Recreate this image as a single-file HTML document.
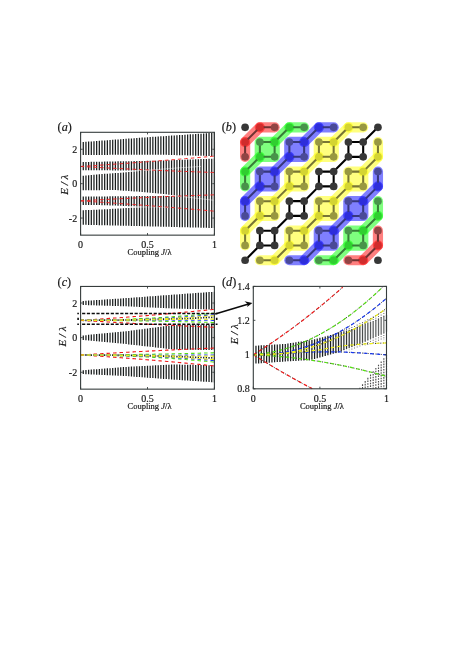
<!DOCTYPE html>
<html lang="en"><head><meta charset="utf-8"><title>Figure</title>
<style>html,body{margin:0;padding:0;background:#fff;overflow:hidden}svg{display:block}text{font-family:'Liberation Serif', 'DejaVu Serif', serif;fill:#141414;stroke:#141414;stroke-width:0.16px}</style>
</head><body>
<svg width="464" height="655" viewBox="0 0 464 655">
<rect width="464" height="655" fill="#fff"/>
<g id="panel-a">
<path d="M83.28 210.22V224.75M83.28 196.62V204.92M83.28 175.68V190.26M83.28 162.02V170.18M83.28 142.01V154.93M85.95 210.12V224.81M85.95 196.6V204.94M85.95 175.45V190.24M85.95 161.97V170.2M85.95 141.81V154.92M88.63 210.02V224.88M88.63 196.57V204.97M88.63 175.21V190.22M88.63 161.92V170.21M88.63 141.61V154.92M91.3 209.92V224.94M91.3 196.55V204.99M91.3 174.97V190.2M91.3 161.87V170.23M91.3 141.41V154.91M93.98 209.82V225.01M93.98 196.52V205.01M93.98 174.73V190.18M93.98 161.82V170.25M93.98 141.21V154.91M96.66 209.72V225.07M96.66 196.5V205.03M96.66 174.5V190.16M96.66 161.77V170.27M96.66 141.01V154.9M99.33 209.62V225.14M99.33 196.47V205.05M99.33 174.26V190.14M99.33 161.72V170.29M99.33 140.81V154.9M102.01 209.48V225.2M102.01 196.45V205.13M102.01 174.05V190.12M102.01 161.67V170.31M102.01 140.61V154.89M104.68 209.33V225.27M104.68 196.42V205.23M104.68 173.86V190.1M104.68 161.62V170.33M104.68 140.41V154.89M107.36 209.17V225.34M107.36 196.4V205.33M107.36 173.67V190.08M107.36 161.57V170.34M107.36 140.21V154.88M110.04 209.02V225.4M110.04 196.37V205.43M110.04 173.47V190.05M110.04 161.52V170.36M110.04 140.01V154.87M112.71 208.86V225.47M112.71 196.35V205.53M112.71 173.28V190.03M112.71 161.47V170.38M112.71 139.81V154.87M115.39 208.7V225.53M115.39 196.32V205.62M115.39 173.08V190.12M115.39 161.42V170.4M115.39 139.61V154.86M118.06 208.55V225.6M118.06 196.3V205.72M118.06 172.89V190.3M118.06 161.37V170.42M118.06 139.41V154.86M120.74 208.39V225.66M120.74 196.27V205.82M120.74 172.7V190.48M120.74 161.32V170.44M120.74 139.22V154.85M123.42 208.24V225.73M123.42 196.25V205.92M123.42 172.5V190.66M123.42 161.28V170.46M123.42 139.02V154.85M126.09 208.08V225.79M126.09 196.22V206.02M126.09 172.31V190.84M126.09 161.23V170.48M126.09 138.82V154.84M128.77 207.96V225.86M128.77 196.2V206.13M128.77 172.05V191.03M128.77 161.18V170.49M128.77 138.62V154.84M131.44 207.83V225.92M131.44 196.17V206.25M131.44 171.79V191.21M131.44 161.13V170.51M131.44 138.42V154.83M134.12 207.71V225.99M134.12 196.15V206.36M134.12 171.53V191.39M134.12 161.08V170.53M134.12 138.22V154.83M136.8 207.58V226.05M136.8 196.12V206.48M136.8 171.28V191.57M136.8 161.03V170.55M136.8 138.02V154.82M139.47 207.45V226.12M139.47 196.1V206.59M139.47 171.02V191.81M139.47 160.98V170.57M139.47 137.82V154.81M142.15 207.33V226.19M142.15 196.07V206.71M142.15 160.93V192.05M142.15 137.62V154.81M144.82 207.2V226.25M144.82 196.05V206.82M144.82 160.88V192.29M144.82 137.42V154.8M147.5 196.02V226.32M147.5 160.83V192.54M147.5 137.22V154.8M150.18 196V226.38M150.18 160.78V192.78M150.18 137.04V154.79M152.85 195.97V226.45M152.85 160.73V193.02M152.85 136.86V154.79M155.53 195.95V226.52M155.53 160.68V193.26M155.53 136.68V154.78M158.2 195.92V226.59M158.2 160.63V193.5M158.2 136.5V154.78M160.88 195.9V226.66M160.88 160.58V193.74M160.88 136.33V154.77M163.56 195.87V226.73M163.56 160.53V193.98M163.56 136.15V154.76M166.23 195.97V226.8M166.23 160.42V194.32M166.23 135.97V154.84M168.91 196.07V226.87M168.91 160.32V194.67M168.91 135.79V154.91M171.58 196.17V226.94M171.58 160.22V195.01M171.58 135.61V154.98M174.26 196.27V227M174.26 160.12V195.36M174.26 135.43V155.05M176.94 196.36V227.07M176.94 160.02V195.7M176.94 135.25V155.13M179.61 196.46V227.14M179.61 159.92V196.04M179.61 135.07V155.2M182.29 159.82V227.21M182.29 134.89V155.27M184.96 159.71V227.28M184.96 134.72V155.34M187.64 159.61V227.35M187.64 134.54V155.42M190.32 159.51V227.42M190.32 134.36V155.49M192.99 159.41V227.49M192.99 134.18V155.56M195.67 159.31V227.55M195.67 134V155.63M198.34 159.21V227.62M198.34 133.82V155.71M201.02 159.11V227.69M201.02 133.64V155.78M203.7 159.01V227.76M203.7 133.46V155.85M206.37 158.9V227.83M206.37 133.28V155.92M209.05 158.8V227.9M209.05 133.11V156M211.72 158.7V227.97M211.72 132.93V156.07M214.4 158.6V228.04M214.4 132.75V156.14" stroke="#181c1c" stroke-width="1.25" fill="none"/>
<path d="M80.6 166.46L82.29 166.35L83.99 166.24L85.68 166.13L87.37 166.02L89.07 165.91L90.76 165.8L92.46 165.68L94.15 165.57L95.84 165.46L97.54 165.34L99.23 165.23L100.92 165.11L102.62 165L104.31 164.88L106.01 164.77L107.7 164.65L109.39 164.53L111.09 164.41L112.78 164.29L114.47 164.17L116.17 164.05L117.86 163.93L119.55 163.81L121.25 163.69L122.94 163.57L124.64 163.44L126.33 163.32L128.02 163.2L129.72 163.07L131.41 162.95L133.1 162.82L134.8 162.69L136.49 162.57L138.18 162.44L139.88 162.31L141.57 162.18L143.27 162.05L144.96 161.93L146.65 161.8L148.35 161.66L150.04 161.53L151.73 161.4L153.43 161.27L155.12 161.14L156.82 161L158.51 160.87L160.2 160.73L161.9 160.6L163.59 160.46L165.28 160.33L166.98 160.19L168.67 160.05L170.36 159.92L172.06 159.78L173.75 159.64L175.45 159.5L177.14 159.36L178.83 159.22L180.53 159.08L182.22 158.94L183.91 158.79L185.61 158.65L187.3 158.51L188.99 158.36L190.69 158.22L192.38 158.07L194.08 157.93L195.77 157.78L197.46 157.64L199.16 157.49L200.85 157.34L202.54 157.19L204.24 157.04L205.93 156.9L207.63 156.75L209.32 156.59L211.01 156.44L212.71 156.29L214.4 156.14" stroke="#f02424" stroke-width="1.0" fill="none" stroke-dasharray="3.5 3" stroke-dashoffset="0"/>
<path d="M80.6 166.46L82.29 166.56L83.99 166.65L85.68 166.75L87.37 166.85L89.07 166.94L90.76 167.04L92.46 167.13L94.15 167.23L95.84 167.32L97.54 167.41L99.23 167.5L100.92 167.6L102.62 167.69L104.31 167.78L106.01 167.87L107.7 167.96L109.39 168.05L111.09 168.13L112.78 168.22L114.47 168.31L116.17 168.4L117.86 168.48L119.55 168.57L121.25 168.65L122.94 168.74L124.64 168.82L126.33 168.9L128.02 168.99L129.72 169.07L131.41 169.15L133.1 169.23L134.8 169.31L136.49 169.39L138.18 169.47L139.88 169.55L141.57 169.63L143.27 169.71L144.96 169.79L146.65 169.86L148.35 169.94L150.04 170.01L151.73 170.09L153.43 170.16L155.12 170.24L156.82 170.31L158.51 170.38L160.2 170.46L161.9 170.53L163.59 170.6L165.28 170.67L166.98 170.74L168.67 170.81L170.36 170.88L172.06 170.95L173.75 171.01L175.45 171.08L177.14 171.15L178.83 171.22L180.53 171.28L182.22 171.35L183.91 171.41L185.61 171.48L187.3 171.54L188.99 171.6L190.69 171.66L192.38 171.73L194.08 171.79L195.77 171.85L197.46 171.91L199.16 171.97L200.85 172.03L202.54 172.09L204.24 172.14L205.93 172.2L207.63 172.26L209.32 172.31L211.01 172.37L212.71 172.43L214.4 172.48" stroke="#f02424" stroke-width="1.0" fill="none" stroke-dasharray="3.5 3" stroke-dashoffset="0"/>
<path d="M80.6 200.86L82.29 200.97L83.99 201.08L85.68 201.19L87.37 201.3L89.07 201.41L90.76 201.52L92.46 201.64L94.15 201.75L95.84 201.86L97.54 201.98L99.23 202.09L100.92 202.21L102.62 202.32L104.31 202.44L106.01 202.55L107.7 202.67L109.39 202.79L111.09 202.91L112.78 203.03L114.47 203.15L116.17 203.27L117.86 203.39L119.55 203.51L121.25 203.63L122.94 203.75L124.64 203.88L126.33 204L128.02 204.12L129.72 204.25L131.41 204.37L133.1 204.5L134.8 204.63L136.49 204.75L138.18 204.88L139.88 205.01L141.57 205.14L143.27 205.27L144.96 205.39L146.65 205.52L148.35 205.66L150.04 205.79L151.73 205.92L153.43 206.05L155.12 206.18L156.82 206.32L158.51 206.45L160.2 206.59L161.9 206.72L163.59 206.86L165.28 206.99L166.98 207.13L168.67 207.27L170.36 207.4L172.06 207.54L173.75 207.68L175.45 207.82L177.14 207.96L178.83 208.1L180.53 208.24L182.22 208.38L183.91 208.53L185.61 208.67L187.3 208.81L188.99 208.96L190.69 209.1L192.38 209.25L194.08 209.39L195.77 209.54L197.46 209.68L199.16 209.83L200.85 209.98L202.54 210.13L204.24 210.28L205.93 210.42L207.63 210.57L209.32 210.73L211.01 210.88L212.71 211.03L214.4 211.18" stroke="#f02424" stroke-width="1.0" fill="none" stroke-dasharray="3.5 3" stroke-dashoffset="0"/>
<path d="M80.6 200.86L82.29 200.76L83.99 200.67L85.68 200.57L87.37 200.47L89.07 200.38L90.76 200.28L92.46 200.19L94.15 200.09L95.84 200L97.54 199.91L99.23 199.82L100.92 199.72L102.62 199.63L104.31 199.54L106.01 199.45L107.7 199.36L109.39 199.27L111.09 199.19L112.78 199.1L114.47 199.01L116.17 198.92L117.86 198.84L119.55 198.75L121.25 198.67L122.94 198.58L124.64 198.5L126.33 198.42L128.02 198.33L129.72 198.25L131.41 198.17L133.1 198.09L134.8 198.01L136.49 197.93L138.18 197.85L139.88 197.77L141.57 197.69L143.27 197.61L144.96 197.53L146.65 197.46L148.35 197.38L150.04 197.31L151.73 197.23L153.43 197.16L155.12 197.08L156.82 197.01L158.51 196.94L160.2 196.86L161.9 196.79L163.59 196.72L165.28 196.65L166.98 196.58L168.67 196.51L170.36 196.44L172.06 196.37L173.75 196.31L175.45 196.24L177.14 196.17L178.83 196.1L180.53 196.04L182.22 195.97L183.91 195.91L185.61 195.84L187.3 195.78L188.99 195.72L190.69 195.66L192.38 195.59L194.08 195.53L195.77 195.47L197.46 195.41L199.16 195.35L200.85 195.29L202.54 195.23L204.24 195.18L205.93 195.12L207.63 195.06L209.32 195.01L211.01 194.95L212.71 194.89L214.4 194.84" stroke="#f02424" stroke-width="1.0" fill="none" stroke-dasharray="3.5 3" stroke-dashoffset="0"/>
<path d="M143.49 170.59L174.26 168.18L201.02 166.46" stroke="#fff" stroke-opacity="0.45" stroke-width="0.9" fill="none"/>
<path d="M183.63 196.73L198.34 198.45L214.4 200.34" stroke="#fff" stroke-opacity="0.45" stroke-width="0.9" fill="none"/>
<path d="M147.5 207.05L168.91 207.4" stroke="#fff" stroke-opacity="0.3" stroke-width="0.9" fill="none"/>
<rect x="80.6" y="132.3" width="133.8" height="102.85" fill="none" stroke="#363c3c" stroke-width="1.1"/>
<path d="M80.6 235.15v-2.1M80.6 132.3v2.1M147.5 235.15v-2.1M147.5 132.3v2.1M214.4 235.15v-2.1M214.4 132.3v2.1M80.6 218.06h2.1M214.4 218.06h-2.1M80.6 183.66h2.1M214.4 183.66h-2.1M80.6 149.26h2.1M214.4 149.26h-2.1" stroke="#363c3c" stroke-width="0.9" fill="none"/>
<text x="80.6" y="248.05" text-anchor="middle" font-size="10">0</text>
<text x="147.5" y="248.05" text-anchor="middle" font-size="10">0.5</text>
<text x="214.4" y="248.05" text-anchor="middle" font-size="10">1</text>
<text x="77.2" y="221.56" text-anchor="end" font-size="10">-2</text>
<text x="77.2" y="187.16" text-anchor="end" font-size="10">0</text>
<text x="77.2" y="152.76" text-anchor="end" font-size="10">2</text>
<text x="149.5" y="255.35" text-anchor="middle" font-size="8.5">Coupling <tspan font-style="italic">J</tspan>/λ</text>
<text transform="translate(67.8 184.7) rotate(-90)" text-anchor="middle" font-size="11" font-style="italic">E / λ</text>
<text x="57.6" y="131.2" font-size="12.2">(<tspan font-style="italic">a</tspan>)</text>
</g>
<g id="panel-c">
<path d="M83.28 300.95V305.02M83.28 335.4V339.9M83.28 370.16V374.12M83.28 319.42V321.22M83.28 354.08V355.88M85.95 300.77V305.1M85.95 335.14V340.16M85.95 369.96V374.25M85.95 319.41V321.2M85.95 354.1V355.89M88.63 300.59V305.19M88.63 334.87V340.43M88.63 369.75V374.37M88.63 319.39V321.18M88.63 354.12V355.91M91.3 300.41V305.27M91.3 334.61V340.69M91.3 369.55V374.49M91.3 319.38V321.17M91.3 354.13V355.92M93.98 300.24V305.35M93.98 334.35V340.95M93.98 369.35V374.61M93.98 319.36V321.15M93.98 354.15V355.94M96.66 300.06V305.44M96.66 334.09V341.21M96.66 369.14V374.73M96.66 319.34V321.13M96.66 354.17V355.96M99.33 299.88V305.52M99.33 333.82V341.48M99.33 368.94V374.86M99.33 319.33V321.11M99.33 354.19V355.97M102.01 299.7V305.61M102.01 333.56V341.74M102.01 368.74V374.98M102.01 319.31V321.09M102.01 354.21V355.99M104.68 299.52V305.69M104.68 333.3V342M104.68 368.53V375.1M104.68 319.3V321.07M104.68 354.23V356M107.36 299.35V305.77M107.36 333.04V342.26M107.36 368.33V375.22M107.36 319.28V321.05M107.36 354.25V356.02M110.04 299.17V305.86M110.04 332.78V342.52M110.04 368.13V375.35M110.04 319.27V321.03M110.04 354.27V356.03M112.71 298.99V305.94M112.71 332.51V342.79M112.71 367.92V375.47M112.71 319.25V321.02M112.71 354.28V356.05M115.39 298.81V306.03M115.39 332.25V343.05M115.39 367.72V375.59M115.39 319.21V321M115.39 354.3V356.09M118.06 298.63V306.11M118.06 331.99V343.31M118.06 367.51V375.71M118.06 319.16V320.98M118.06 354.32V356.14M120.74 298.46V306.2M120.74 331.73V343.57M120.74 367.31V375.83M120.74 319.12V320.97M120.74 354.33V356.18M123.42 298.28V306.28M123.42 331.47V343.83M123.42 367.11V375.96M123.42 319.08V320.95M123.42 354.35V356.22M126.09 298.1V306.36M126.09 331.2V344.1M126.09 366.9V376.08M126.09 319.04V320.94M126.09 354.36V356.26M128.77 297.91V306.47M128.77 330.9V344.38M128.77 366.76V376.28M128.77 318.99V320.92M128.77 354.38V356.31M131.44 297.72V306.59M131.44 330.55V344.68M131.44 366.62V376.48M131.44 318.95V320.91M131.44 354.39V356.35M134.12 297.52V306.71M134.12 330.2V344.99M134.12 366.48V376.68M134.12 318.91V320.89M134.12 354.41V356.39M136.8 297.32V306.84M136.8 329.85V345.29M136.8 366.34V376.88M136.8 318.87V320.85M136.8 354.45V356.43M139.47 297.13V306.96M139.47 329.5V345.6M139.47 366.2V377.08M139.47 318.82V320.8M139.47 354.5V356.48M142.15 296.93V307.09M142.15 329.15V345.9M142.15 366.06V377.28M142.15 318.78V320.76M142.15 354.54V356.52M144.82 296.74V307.21M144.82 328.8V346.2M144.82 365.92V377.48M144.82 318.71V320.68M144.82 354.62V356.59M147.5 296.54V307.33M147.5 328.44V346.51M147.5 365.78V377.68M147.5 318.64V320.61M147.5 354.69V356.66M150.18 296.35V307.46M150.18 328.09V346.81M150.18 365.64V377.88M150.18 318.57V320.53M150.18 354.77V356.73M152.85 296.15V307.58M152.85 327.74V347.12M152.85 365.5V378.08M152.85 318.49V320.46M152.85 354.84V356.81M155.53 295.95V307.7M155.53 327.39V347.42M155.53 365.36V378.28M155.53 318.42V320.39M155.53 354.91V356.88M158.2 295.76V307.83M158.2 327.04V347.72M158.2 365.22V378.48M158.2 318.35V320.31M158.2 354.99V356.95M160.88 295.56V307.95M160.88 326.69V348.03M160.88 365.08V378.68M160.88 318.28V320.24M160.88 355.06V357.02M163.56 295.37V308.07M163.56 326.34V348.33M163.56 364.94V378.88M163.56 318.2V320.17M163.56 355.13V357.1M166.23 295.17V308.2M166.23 325.99V348.64M166.23 364.8V379.08M166.23 318.13V320.08M166.23 355.22V357.17M168.91 294.98V308.32M168.91 325.64V348.94M168.91 364.66V379.28M168.91 318.06V319.98M168.91 355.32V357.24M171.58 294.78V308.45M171.58 325.29V349.24M171.58 364.52V379.48M171.58 317.98V319.87M171.58 355.43V357.32M174.26 294.59V308.53M174.26 325.13V349.39M174.26 364.51V379.67M174.26 317.91V319.77M174.26 355.53V357.39M176.94 294.39V308.6M176.94 325.06V349.46M176.94 364.56V379.85M176.94 317.84V319.66M176.94 355.64V357.46M179.61 294.2V308.68M179.61 324.98V349.54M179.61 364.6V380.03M179.61 317.76V319.56M179.61 355.74V357.54M182.29 294.01V308.75M182.29 324.91V349.62M182.29 364.65V380.21M182.29 317.69V319.46M182.29 355.84V357.61M184.96 293.81V308.82M184.96 324.83V349.69M184.96 364.69V380.4M184.96 317.59V319.35M184.96 355.95V357.71M187.64 293.62V308.89M187.64 324.75V349.77M187.64 364.74V380.58M187.64 317.48V319.25M187.64 356.05V357.82M190.32 293.43V308.96M190.32 324.75V349.8M190.32 364.8V380.76M190.32 317.38V319.13M190.32 356.17V357.92M192.99 293.24V309.03M192.99 324.74V349.84M192.99 364.86V380.94M192.99 317.28V319.02M192.99 356.28V358.02M195.67 293.04V309.11M195.67 324.73V349.87M195.67 364.92V381.12M195.67 317.17V318.9M195.67 356.4V358.13M198.34 292.85V309.18M198.34 324.72V349.91M198.34 364.98V381.3M198.34 317.07V318.79M198.34 356.51V358.23M201.02 292.66V309.25M201.02 324.71V349.94M201.02 365.04V381.49M201.02 316.96V318.67M201.02 356.63V358.34M203.7 292.46V309.32M203.7 324.7V349.97M203.7 365.1V381.67M203.7 316.85V318.55M203.7 356.75V358.45M206.37 292.27V309.39M206.37 324.69V350.01M206.37 365.16V381.85M206.37 316.73V318.44M206.37 356.86V358.57M209.05 292.08V309.46M209.05 324.68V350.04M209.05 365.22V382.03M209.05 316.6V318.32M209.05 356.98V358.7M211.72 291.88V309.54M211.72 324.68V350.08M211.72 365.29V382.21M211.72 316.48V318.21M211.72 357.09V358.82M214.4 291.69V309.61M214.4 324.67V350.11M214.4 365.35V382.4M214.4 316.36V318.09M214.4 357.21V358.94" stroke="#181c1c" stroke-width="1.25" fill="none"/>
<path d="M80.6 320.34L82.29 320.23L83.99 320.13L85.68 320.02L87.37 319.91L89.07 319.8L90.76 319.69L92.46 319.58L94.15 319.47L95.84 319.36L97.54 319.24L99.23 319.13L100.92 319.01L102.62 318.9L104.31 318.78L106.01 318.66L107.7 318.54L109.39 318.42L111.09 318.3L112.78 318.18L114.47 318.06L116.17 317.94L117.86 317.81L119.55 317.69L121.25 317.56L122.94 317.44L124.64 317.31L126.33 317.18L128.02 317.05L129.72 316.92L131.41 316.79L133.1 316.66L134.8 316.53L136.49 316.4L138.18 316.26L139.88 316.13L141.57 315.99L143.27 315.86L144.96 315.72L146.65 315.58L148.35 315.44L150.04 315.3L151.73 315.16L153.43 315.02L155.12 314.88L156.82 314.73L158.51 314.59L160.2 314.44L161.9 314.3L163.59 314.15L165.28 314.01L166.98 313.86L168.67 313.71L170.36 313.56L172.06 313.41L173.75 313.26L175.45 313.1L177.14 312.95L178.83 312.8L180.53 312.64L182.22 312.49L183.91 312.33L185.61 312.17L187.3 312.01L188.99 311.85L190.69 311.69L192.38 311.53L194.08 311.37L195.77 311.21L197.46 311.05L199.16 310.88L200.85 310.72L202.54 310.55L204.24 310.38L205.93 310.22L207.63 310.05L209.32 309.88L211.01 309.71L212.71 309.54L214.4 309.37" stroke="#f01818" stroke-width="1.1" fill="none" stroke-dasharray="3.5 3" stroke-dashoffset="0"/>
<path d="M80.6 320.34L82.29 320.44L83.99 320.55L85.68 320.65L87.37 320.76L89.07 320.86L90.76 320.96L92.46 321.07L94.15 321.17L95.84 321.27L97.54 321.37L99.23 321.47L100.92 321.57L102.62 321.67L104.31 321.77L106.01 321.87L107.7 321.97L109.39 322.06L111.09 322.16L112.78 322.26L114.47 322.35L116.17 322.45L117.86 322.55L119.55 322.64L121.25 322.74L122.94 322.83L124.64 322.92L126.33 323.02L128.02 323.11L129.72 323.2L131.41 323.3L133.1 323.39L134.8 323.48L136.49 323.57L138.18 323.66L139.88 323.75L141.57 323.84L143.27 323.93L144.96 324.02L146.65 324.1L148.35 324.19L150.04 324.28L151.73 324.37L153.43 324.45L155.12 324.54L156.82 324.62L158.51 324.71L160.2 324.79L161.9 324.88L163.59 324.96L165.28 325.04L166.98 325.13L168.67 325.21L170.36 325.29L172.06 325.37L173.75 325.45L175.45 325.53L177.14 325.61L178.83 325.69L180.53 325.77L182.22 325.85L183.91 325.93L185.61 326.01L187.3 326.09L188.99 326.16L190.69 326.24L192.38 326.31L194.08 326.39L195.77 326.47L197.46 326.54L199.16 326.61L200.85 326.69L202.54 326.76L204.24 326.84L205.93 326.91L207.63 326.98L209.32 327.05L211.01 327.12L212.71 327.19L214.4 327.26" stroke="#f01818" stroke-width="1.1" fill="none" stroke-dasharray="3.5 3" stroke-dashoffset="0"/>
<path d="M80.6 320.34L82.29 320.33L83.99 320.31L85.68 320.29L87.37 320.27L89.07 320.25L90.76 320.23L92.46 320.2L94.15 320.17L95.84 320.14L97.54 320.11L99.23 320.08L100.92 320.04L102.62 320L104.31 319.96L106.01 319.92L107.7 319.88L109.39 319.83L111.09 319.78L112.78 319.73L114.47 319.68L116.17 319.63L117.86 319.57L119.55 319.52L121.25 319.46L122.94 319.4L124.64 319.33L126.33 319.27L128.02 319.2L129.72 319.13L131.41 319.06L133.1 318.99L134.8 318.91L136.49 318.83L138.18 318.75L139.88 318.67L141.57 318.59L143.27 318.51L144.96 318.42L146.65 318.33L148.35 318.24L150.04 318.15L151.73 318.05L153.43 317.95L155.12 317.86L156.82 317.75L158.51 317.65L160.2 317.55L161.9 317.44L163.59 317.33L165.28 317.22L166.98 317.11L168.67 316.99L170.36 316.88L172.06 316.76L173.75 316.64L175.45 316.52L177.14 316.39L178.83 316.27L180.53 316.14L182.22 316.01L183.91 315.87L185.61 315.74L187.3 315.6L188.99 315.47L190.69 315.33L192.38 315.18L194.08 315.04L195.77 314.89L197.46 314.75L199.16 314.6L200.85 314.44L202.54 314.29L204.24 314.13L205.93 313.98L207.63 313.82L209.32 313.65L211.01 313.49L212.71 313.32L214.4 313.16" stroke="#55e010" stroke-width="1.1" fill="none" stroke-dasharray="3.5 3" stroke-dashoffset="0"/>
<path d="M80.6 320.34L82.29 320.35L83.99 320.35L85.68 320.36L87.37 320.37L89.07 320.38L90.76 320.39L92.46 320.4L94.15 320.41L95.84 320.42L97.54 320.43L99.23 320.45L100.92 320.46L102.62 320.47L104.31 320.49L106.01 320.5L107.7 320.52L109.39 320.53L111.09 320.55L112.78 320.56L114.47 320.58L116.17 320.6L117.86 320.62L119.55 320.63L121.25 320.65L122.94 320.67L124.64 320.69L126.33 320.71L128.02 320.73L129.72 320.76L131.41 320.78L133.1 320.8L134.8 320.82L136.49 320.85L138.18 320.87L139.88 320.9L141.57 320.92L143.27 320.95L144.96 320.97L146.65 321L148.35 321.03L150.04 321.06L151.73 321.09L153.43 321.11L155.12 321.14L156.82 321.17L158.51 321.2L160.2 321.24L161.9 321.27L163.59 321.3L165.28 321.33L166.98 321.36L168.67 321.4L170.36 321.43L172.06 321.47L173.75 321.5L175.45 321.54L177.14 321.57L178.83 321.61L180.53 321.65L182.22 321.69L183.91 321.72L185.61 321.76L187.3 321.8L188.99 321.84L190.69 321.88L192.38 321.92L194.08 321.97L195.77 322.01L197.46 322.05L199.16 322.09L200.85 322.14L202.54 322.18L204.24 322.23L205.93 322.27L207.63 322.32L209.32 322.36L211.01 322.41L212.71 322.46L214.4 322.5" stroke="#55e010" stroke-width="1.1" fill="none" stroke-dasharray="3.5 3" stroke-dashoffset="0"/>
<path d="M80.6 320.34L82.29 320.34L83.99 320.34L85.68 320.34L87.37 320.34L89.07 320.34L90.76 320.33L92.46 320.32L94.15 320.31L95.84 320.3L97.54 320.29L99.23 320.27L100.92 320.25L102.62 320.23L104.31 320.21L106.01 320.19L107.7 320.16L109.39 320.14L111.09 320.11L112.78 320.07L114.47 320.04L116.17 320.01L117.86 319.97L119.55 319.93L121.25 319.89L122.94 319.85L124.64 319.8L126.33 319.75L128.02 319.71L129.72 319.66L131.41 319.6L133.1 319.55L134.8 319.49L136.49 319.43L138.18 319.37L139.88 319.31L141.57 319.25L143.27 319.18L144.96 319.11L146.65 319.04L148.35 318.97L150.04 318.9L151.73 318.82L153.43 318.74L155.12 318.66L156.82 318.58L158.51 318.5L160.2 318.41L161.9 318.33L163.59 318.24L165.28 318.15L166.98 318.05L168.67 317.96L170.36 317.86L172.06 317.76L173.75 317.66L175.45 317.56L177.14 317.45L178.83 317.35L180.53 317.24L182.22 317.13L183.91 317.02L185.61 316.9L187.3 316.79L188.99 316.67L190.69 316.55L192.38 316.42L194.08 316.3L195.77 316.17L197.46 316.05L199.16 315.92L200.85 315.79L202.54 315.65L204.24 315.52L205.93 315.38L207.63 315.24L209.32 315.1L211.01 314.95L212.71 314.81L214.4 314.66" stroke="#1838f0" stroke-width="1.1" fill="none" stroke-dasharray="3.5 3" stroke-dashoffset="0"/>
<path d="M80.6 320.34L82.29 320.33L83.99 320.33L85.68 320.32L87.37 320.32L89.07 320.31L90.76 320.3L92.46 320.3L94.15 320.29L95.84 320.29L97.54 320.28L99.23 320.28L100.92 320.27L102.62 320.26L104.31 320.25L106.01 320.24L107.7 320.23L109.39 320.23L111.09 320.22L112.78 320.21L114.47 320.2L116.17 320.19L117.86 320.18L119.55 320.17L121.25 320.16L122.94 320.15L124.64 320.14L126.33 320.12L128.02 320.11L129.72 320.1L131.41 320.08L133.1 320.07L134.8 320.06L136.49 320.06L138.18 320.06L139.88 320.06L141.57 320.06L143.27 320.06L144.96 320.06L146.65 320.06L148.35 320.06L150.04 320.05L151.73 320.05L153.43 320.05L155.12 320.05L156.82 320.05L158.51 320.05L160.2 320.05L161.9 320.05L163.59 320.05L165.28 320.05L166.98 320.05L168.67 320.05L170.36 320.06L172.06 320.07L173.75 320.08L175.45 320.09L177.14 320.1L178.83 320.1L180.53 320.11L182.22 320.12L183.91 320.13L185.61 320.14L187.3 320.15L188.99 320.16L190.69 320.17L192.38 320.18L194.08 320.2L195.77 320.21L197.46 320.22L199.16 320.23L200.85 320.24L202.54 320.26L204.24 320.27L205.93 320.28L207.63 320.29L209.32 320.3L211.01 320.32L212.71 320.33L214.4 320.34" stroke="#1838f0" stroke-width="1.1" fill="none" stroke-dasharray="3.5 3" stroke-dashoffset="0"/>
<path d="M80.6 320.34L82.29 320.35L83.99 320.35L85.68 320.35L87.37 320.35L89.07 320.35L90.76 320.35L92.46 320.35L94.15 320.34L95.84 320.33L97.54 320.32L99.23 320.31L100.92 320.3L102.62 320.28L104.31 320.27L106.01 320.25L107.7 320.23L109.39 320.21L111.09 320.19L112.78 320.16L114.47 320.14L116.17 320.11L117.86 320.08L119.55 320.05L121.25 320.02L122.94 319.98L124.64 319.95L126.33 319.91L128.02 319.87L129.72 319.83L131.41 319.79L133.1 319.74L134.8 319.7L136.49 319.65L138.18 319.6L139.88 319.55L141.57 319.5L143.27 319.44L144.96 319.39L146.65 319.33L148.35 319.27L150.04 319.21L151.73 319.15L153.43 319.08L155.12 319.02L156.82 318.95L158.51 318.88L160.2 318.81L161.9 318.74L163.59 318.66L165.28 318.59L166.98 318.51L168.67 318.43L170.36 318.35L172.06 318.27L173.75 318.18L175.45 318.1L177.14 318.01L178.83 317.92L180.53 317.83L182.22 317.74L183.91 317.64L185.61 317.55L187.3 317.45L188.99 317.35L190.69 317.25L192.38 317.15L194.08 317.05L195.77 316.94L197.46 316.83L199.16 316.72L200.85 316.61L202.54 316.5L204.24 316.39L205.93 316.27L207.63 316.15L209.32 316.03L211.01 315.91L212.71 315.79L214.4 315.67" stroke="#f0f018" stroke-width="1.1" fill="none" stroke-dasharray="3.5 3" stroke-dashoffset="0"/>
<path d="M80.6 320.34L82.29 320.33L83.99 320.33L85.68 320.32L87.37 320.31L89.07 320.3L90.76 320.3L92.46 320.29L94.15 320.28L95.84 320.28L97.54 320.27L99.23 320.26L100.92 320.26L102.62 320.25L104.31 320.24L106.01 320.23L107.7 320.23L109.39 320.22L111.09 320.21L112.78 320.21L114.47 320.2L116.17 320.18L117.86 320.16L119.55 320.14L121.25 320.12L122.94 320.1L124.64 320.09L126.33 320.07L128.02 320.05L129.72 320.03L131.41 320.01L133.1 319.99L134.8 319.98L136.49 319.96L138.18 319.94L139.88 319.92L141.57 319.9L143.27 319.88L144.96 319.87L146.65 319.85L148.35 319.82L150.04 319.79L151.73 319.76L153.43 319.73L155.12 319.7L156.82 319.67L158.51 319.64L160.2 319.61L161.9 319.58L163.59 319.55L165.28 319.53L166.98 319.5L168.67 319.48L170.36 319.45L172.06 319.43L173.75 319.4L175.45 319.38L177.14 319.37L178.83 319.36L180.53 319.34L182.22 319.33L183.91 319.32L185.61 319.3L187.3 319.29L188.99 319.28L190.69 319.26L192.38 319.25L194.08 319.23L195.77 319.23L197.46 319.22L199.16 319.21L200.85 319.2L202.54 319.2L204.24 319.19L205.93 319.18L207.63 319.17L209.32 319.17L211.01 319.16L212.71 319.15L214.4 319.15" stroke="#f0f018" stroke-width="1.1" fill="none" stroke-dasharray="3.5 3" stroke-dashoffset="0"/>
<path d="M80.6 354.96L82.29 355.07L83.99 355.17L85.68 355.28L87.37 355.39L89.07 355.5L90.76 355.61L92.46 355.72L94.15 355.83L95.84 355.94L97.54 356.06L99.23 356.17L100.92 356.29L102.62 356.4L104.31 356.52L106.01 356.64L107.7 356.76L109.39 356.88L111.09 357L112.78 357.12L114.47 357.24L116.17 357.36L117.86 357.49L119.55 357.61L121.25 357.74L122.94 357.86L124.64 357.99L126.33 358.12L128.02 358.25L129.72 358.38L131.41 358.51L133.1 358.64L134.8 358.77L136.49 358.9L138.18 359.04L139.88 359.17L141.57 359.31L143.27 359.44L144.96 359.58L146.65 359.72L148.35 359.86L150.04 360L151.73 360.14L153.43 360.28L155.12 360.42L156.82 360.57L158.51 360.71L160.2 360.86L161.9 361L163.59 361.15L165.28 361.29L166.98 361.44L168.67 361.59L170.36 361.74L172.06 361.89L173.75 362.04L175.45 362.2L177.14 362.35L178.83 362.5L180.53 362.66L182.22 362.81L183.91 362.97L185.61 363.13L187.3 363.29L188.99 363.45L190.69 363.61L192.38 363.77L194.08 363.93L195.77 364.09L197.46 364.25L199.16 364.42L200.85 364.58L202.54 364.75L204.24 364.92L205.93 365.08L207.63 365.25L209.32 365.42L211.01 365.59L212.71 365.76L214.4 365.93" stroke="#f01818" stroke-width="1.1" fill="none" stroke-dasharray="3.5 3" stroke-dashoffset="0"/>
<path d="M80.6 354.96L82.29 354.86L83.99 354.75L85.68 354.65L87.37 354.54L89.07 354.44L90.76 354.34L92.46 354.23L94.15 354.13L95.84 354.03L97.54 353.93L99.23 353.83L100.92 353.73L102.62 353.63L104.31 353.53L106.01 353.43L107.7 353.33L109.39 353.24L111.09 353.14L112.78 353.04L114.47 352.95L116.17 352.85L117.86 352.75L119.55 352.66L121.25 352.56L122.94 352.47L124.64 352.38L126.33 352.28L128.02 352.19L129.72 352.1L131.41 352L133.1 351.91L134.8 351.82L136.49 351.73L138.18 351.64L139.88 351.55L141.57 351.46L143.27 351.37L144.96 351.28L146.65 351.2L148.35 351.11L150.04 351.02L151.73 350.93L153.43 350.85L155.12 350.76L156.82 350.68L158.51 350.59L160.2 350.51L161.9 350.42L163.59 350.34L165.28 350.26L166.98 350.17L168.67 350.09L170.36 350.01L172.06 349.93L173.75 349.85L175.45 349.77L177.14 349.69L178.83 349.61L180.53 349.53L182.22 349.45L183.91 349.37L185.61 349.29L187.3 349.21L188.99 349.14L190.69 349.06L192.38 348.99L194.08 348.91L195.77 348.83L197.46 348.76L199.16 348.69L200.85 348.61L202.54 348.54L204.24 348.46L205.93 348.39L207.63 348.32L209.32 348.25L211.01 348.18L212.71 348.11L214.4 348.04" stroke="#f01818" stroke-width="1.1" fill="none" stroke-dasharray="3.5 3" stroke-dashoffset="0"/>
<path d="M80.6 354.96L82.29 354.97L83.99 354.99L85.68 355.01L87.37 355.03L89.07 355.05L90.76 355.07L92.46 355.1L94.15 355.13L95.84 355.16L97.54 355.19L99.23 355.22L100.92 355.26L102.62 355.3L104.31 355.34L106.01 355.38L107.7 355.42L109.39 355.47L111.09 355.52L112.78 355.57L114.47 355.62L116.17 355.67L117.86 355.73L119.55 355.78L121.25 355.84L122.94 355.9L124.64 355.97L126.33 356.03L128.02 356.1L129.72 356.17L131.41 356.24L133.1 356.31L134.8 356.39L136.49 356.47L138.18 356.55L139.88 356.63L141.57 356.71L143.27 356.79L144.96 356.88L146.65 356.97L148.35 357.06L150.04 357.15L151.73 357.25L153.43 357.35L155.12 357.44L156.82 357.55L158.51 357.65L160.2 357.75L161.9 357.86L163.59 357.97L165.28 358.08L166.98 358.19L168.67 358.31L170.36 358.42L172.06 358.54L173.75 358.66L175.45 358.78L177.14 358.91L178.83 359.03L180.53 359.16L182.22 359.29L183.91 359.43L185.61 359.56L187.3 359.7L188.99 359.83L190.69 359.97L192.38 360.12L194.08 360.26L195.77 360.41L197.46 360.55L199.16 360.7L200.85 360.86L202.54 361.01L204.24 361.17L205.93 361.32L207.63 361.48L209.32 361.65L211.01 361.81L212.71 361.98L214.4 362.14" stroke="#55e010" stroke-width="1.1" fill="none" stroke-dasharray="3.5 3" stroke-dashoffset="0"/>
<path d="M80.6 354.96L82.29 354.95L83.99 354.95L85.68 354.94L87.37 354.93L89.07 354.92L90.76 354.91L92.46 354.9L94.15 354.89L95.84 354.88L97.54 354.87L99.23 354.85L100.92 354.84L102.62 354.83L104.31 354.81L106.01 354.8L107.7 354.78L109.39 354.77L111.09 354.75L112.78 354.74L114.47 354.72L116.17 354.7L117.86 354.68L119.55 354.67L121.25 354.65L122.94 354.63L124.64 354.61L126.33 354.59L128.02 354.57L129.72 354.54L131.41 354.52L133.1 354.5L134.8 354.48L136.49 354.45L138.18 354.43L139.88 354.4L141.57 354.38L143.27 354.35L144.96 354.33L146.65 354.3L148.35 354.27L150.04 354.24L151.73 354.21L153.43 354.19L155.12 354.16L156.82 354.13L158.51 354.1L160.2 354.06L161.9 354.03L163.59 354L165.28 353.97L166.98 353.94L168.67 353.9L170.36 353.87L172.06 353.83L173.75 353.8L175.45 353.76L177.14 353.73L178.83 353.69L180.53 353.65L182.22 353.61L183.91 353.58L185.61 353.54L187.3 353.5L188.99 353.46L190.69 353.42L192.38 353.38L194.08 353.33L195.77 353.29L197.46 353.25L199.16 353.21L200.85 353.16L202.54 353.12L204.24 353.07L205.93 353.03L207.63 352.98L209.32 352.94L211.01 352.89L212.71 352.84L214.4 352.8" stroke="#55e010" stroke-width="1.1" fill="none" stroke-dasharray="3.5 3" stroke-dashoffset="0"/>
<path d="M80.6 354.96L82.29 354.96L83.99 354.96L85.68 354.96L87.37 354.96L89.07 354.96L90.76 354.97L92.46 354.98L94.15 354.99L95.84 355L97.54 355.01L99.23 355.03L100.92 355.05L102.62 355.07L104.31 355.09L106.01 355.11L107.7 355.14L109.39 355.16L111.09 355.19L112.78 355.23L114.47 355.26L116.17 355.29L117.86 355.33L119.55 355.37L121.25 355.41L122.94 355.45L124.64 355.5L126.33 355.55L128.02 355.59L129.72 355.64L131.41 355.7L133.1 355.75L134.8 355.81L136.49 355.87L138.18 355.93L139.88 355.99L141.57 356.05L143.27 356.12L144.96 356.19L146.65 356.26L148.35 356.33L150.04 356.4L151.73 356.48L153.43 356.56L155.12 356.64L156.82 356.72L158.51 356.8L160.2 356.89L161.9 356.97L163.59 357.06L165.28 357.15L166.98 357.25L168.67 357.34L170.36 357.44L172.06 357.54L173.75 357.64L175.45 357.74L177.14 357.85L178.83 357.95L180.53 358.06L182.22 358.17L183.91 358.28L185.61 358.4L187.3 358.51L188.99 358.63L190.69 358.75L192.38 358.88L194.08 359L195.77 359.13L197.46 359.25L199.16 359.38L200.85 359.51L202.54 359.65L204.24 359.78L205.93 359.92L207.63 360.06L209.32 360.2L211.01 360.35L212.71 360.49L214.4 360.64" stroke="#1838f0" stroke-width="1.1" fill="none" stroke-dasharray="3.5 3" stroke-dashoffset="0"/>
<path d="M80.6 354.96L82.29 354.97L83.99 354.97L85.68 354.98L87.37 354.98L89.07 354.99L90.76 355L92.46 355L94.15 355.01L95.84 355.01L97.54 355.02L99.23 355.02L100.92 355.03L102.62 355.04L104.31 355.05L106.01 355.06L107.7 355.07L109.39 355.07L111.09 355.08L112.78 355.09L114.47 355.1L116.17 355.11L117.86 355.12L119.55 355.13L121.25 355.14L122.94 355.15L124.64 355.16L126.33 355.18L128.02 355.19L129.72 355.2L131.41 355.22L133.1 355.23L134.8 355.24L136.49 355.24L138.18 355.24L139.88 355.24L141.57 355.24L143.27 355.24L144.96 355.24L146.65 355.24L148.35 355.24L150.04 355.25L151.73 355.25L153.43 355.25L155.12 355.25L156.82 355.25L158.51 355.25L160.2 355.25L161.9 355.25L163.59 355.25L165.28 355.25L166.98 355.25L168.67 355.25L170.36 355.24L172.06 355.23L173.75 355.22L175.45 355.21L177.14 355.2L178.83 355.2L180.53 355.19L182.22 355.18L183.91 355.17L185.61 355.16L187.3 355.15L188.99 355.14L190.69 355.13L192.38 355.12L194.08 355.1L195.77 355.09L197.46 355.08L199.16 355.07L200.85 355.06L202.54 355.04L204.24 355.03L205.93 355.02L207.63 355.01L209.32 355L211.01 354.98L212.71 354.97L214.4 354.96" stroke="#1838f0" stroke-width="1.1" fill="none" stroke-dasharray="3.5 3" stroke-dashoffset="0"/>
<path d="M80.6 354.96L82.29 354.95L83.99 354.95L85.68 354.95L87.37 354.95L89.07 354.95L90.76 354.95L92.46 354.95L94.15 354.96L95.84 354.97L97.54 354.98L99.23 354.99L100.92 355L102.62 355.02L104.31 355.03L106.01 355.05L107.7 355.07L109.39 355.09L111.09 355.11L112.78 355.14L114.47 355.16L116.17 355.19L117.86 355.22L119.55 355.25L121.25 355.28L122.94 355.32L124.64 355.35L126.33 355.39L128.02 355.43L129.72 355.47L131.41 355.51L133.1 355.56L134.8 355.6L136.49 355.65L138.18 355.7L139.88 355.75L141.57 355.8L143.27 355.86L144.96 355.91L146.65 355.97L148.35 356.03L150.04 356.09L151.73 356.15L153.43 356.22L155.12 356.28L156.82 356.35L158.51 356.42L160.2 356.49L161.9 356.56L163.59 356.64L165.28 356.71L166.98 356.79L168.67 356.87L170.36 356.95L172.06 357.03L173.75 357.12L175.45 357.2L177.14 357.29L178.83 357.38L180.53 357.47L182.22 357.56L183.91 357.66L185.61 357.75L187.3 357.85L188.99 357.95L190.69 358.05L192.38 358.15L194.08 358.25L195.77 358.36L197.46 358.47L199.16 358.58L200.85 358.69L202.54 358.8L204.24 358.91L205.93 359.03L207.63 359.15L209.32 359.27L211.01 359.39L212.71 359.51L214.4 359.63" stroke="#f0f018" stroke-width="1.1" fill="none" stroke-dasharray="3.5 3" stroke-dashoffset="0"/>
<path d="M80.6 354.96L82.29 354.97L83.99 354.97L85.68 354.98L87.37 354.99L89.07 355L90.76 355L92.46 355.01L94.15 355.02L95.84 355.02L97.54 355.03L99.23 355.04L100.92 355.04L102.62 355.05L104.31 355.06L106.01 355.07L107.7 355.07L109.39 355.08L111.09 355.09L112.78 355.09L114.47 355.1L116.17 355.12L117.86 355.14L119.55 355.16L121.25 355.18L122.94 355.2L124.64 355.21L126.33 355.23L128.02 355.25L129.72 355.27L131.41 355.29L133.1 355.31L134.8 355.32L136.49 355.34L138.18 355.36L139.88 355.38L141.57 355.4L143.27 355.42L144.96 355.43L146.65 355.45L148.35 355.48L150.04 355.51L151.73 355.54L153.43 355.57L155.12 355.6L156.82 355.63L158.51 355.66L160.2 355.69L161.9 355.72L163.59 355.75L165.28 355.77L166.98 355.8L168.67 355.82L170.36 355.85L172.06 355.87L173.75 355.9L175.45 355.92L177.14 355.93L178.83 355.94L180.53 355.96L182.22 355.97L183.91 355.98L185.61 356L187.3 356.01L188.99 356.02L190.69 356.04L192.38 356.05L194.08 356.07L195.77 356.07L197.46 356.08L199.16 356.09L200.85 356.1L202.54 356.1L204.24 356.11L205.93 356.12L207.63 356.13L209.32 356.13L211.01 356.14L212.71 356.15L214.4 356.15" stroke="#f0f018" stroke-width="1.1" fill="none" stroke-dasharray="3.5 3" stroke-dashoffset="0"/>
<path d="M80.6 320.34h3M80.6 354.96h3" stroke="#f0a018" stroke-width="1.2"/>
<rect x="80.6" y="286.45" width="133.8" height="102.7" fill="none" stroke="#363c3c" stroke-width="1.1"/>
<path d="M80.6 389.15v-2.1M80.6 286.45v2.1M147.5 389.15v-2.1M147.5 286.45v2.1M214.4 389.15v-2.1M214.4 286.45v2.1M80.6 372.27h2.1M214.4 372.27h-2.1M80.6 337.65h2.1M214.4 337.65h-2.1M80.6 303.03h2.1M214.4 303.03h-2.1" stroke="#363c3c" stroke-width="0.9" fill="none"/>
<text x="80.6" y="402.05" text-anchor="middle" font-size="10">0</text>
<text x="147.5" y="402.05" text-anchor="middle" font-size="10">0.5</text>
<text x="214.4" y="402.05" text-anchor="middle" font-size="10">1</text>
<text x="77.2" y="375.77" text-anchor="end" font-size="10">-2</text>
<text x="77.2" y="341.15" text-anchor="end" font-size="10">0</text>
<text x="77.2" y="306.53" text-anchor="end" font-size="10">2</text>
<text x="149.5" y="409.35" text-anchor="middle" font-size="8.5">Coupling <tspan font-style="italic">J</tspan>/λ</text>
<path d="M82.1 313.5H217.5M82.1 324.2H217.5" fill="none" stroke="#0c0c0c" stroke-width="1.55" stroke-dasharray="3.2 1.57"/>
<path d="M77.3 312.72h1.6v1.56h-1.6zM77.3 323.42h1.6v1.56h-1.6zM77.3 317.8h1.6v2.1h-1.6zM215.9 317.8h1.6v2.1h-1.6z" fill="#0c0c0c"/>
<text transform="translate(66.3 336.6) rotate(-90)" text-anchor="middle" font-size="11" font-style="italic">E / λ</text>
<text x="57.6" y="286.3" font-size="12.2">(<tspan font-style="italic">c</tspan>)</text>
</g>
<g id="arrow"><path d="M215.2 313.9L248.6 304" stroke="#0a0a0a" stroke-width="1.6" fill="none"/><path d="M252.4 302.9L244.5 301.3L247.8 304.2L247.1 306.9Z" fill="#0a0a0a"/></g>
<g id="panel-d">
<path d="M255.96 345.68V363.58M258.63 345.52V363.39M261.29 345.36V363.2M263.96 345.2V363.02M266.62 345.05V362.83M269.28 344.89V362.64M271.95 344.73V362.46M274.61 344.57V362.27M277.28 344.41V362.08M279.94 344.25V361.9M282.6 344.1V361.71M285.27 343.94V361.52M287.93 343.52V361.37M290.6 343.09V361.22M293.26 342.67V361.07M295.92 342.25V360.92M298.59 341.82V360.77M301.25 341.4V360.62M303.92 340.98V360.47M306.58 340.55V360.32M309.24 340.13V359.86M311.91 339.71V359.4M314.57 339.28V358.94M317.24 338.57V358.2M319.9 337.85V357.46M322.56 337.13V356.72M325.23 336.41V355.99M327.89 335.69V355.27M330.56 334.97V354.54M333.22 334.25V353.82" stroke="#181c1c" stroke-width="1.25" fill="none"/>
<path d="M335.88 333.5V353.06" stroke="#181c1c" stroke-width="1.25" fill="none" stroke-opacity="0.98"/>
<path d="M335.88 333.22V334.21" stroke="#333" stroke-width="0.9" fill="none" stroke-dasharray="0.8 1.7"/>
<path d="M335.88 352.4V353.44" stroke="#333" stroke-width="0.9" fill="none" stroke-dasharray="0.8 1.5"/>
<path d="M338.55 332.76V352.15" stroke="#181c1c" stroke-width="1.25" fill="none" stroke-opacity="0.96"/>
<path d="M338.55 332.19V333.48" stroke="#333" stroke-width="0.9" fill="none" stroke-dasharray="0.8 1.7"/>
<path d="M338.55 351.52V352.9" stroke="#333" stroke-width="0.9" fill="none" stroke-dasharray="0.8 1.5"/>
<path d="M341.21 332.01V351.08" stroke="#181c1c" stroke-width="1.25" fill="none" stroke-opacity="0.94"/>
<path d="M341.21 331.16V332.75" stroke="#333" stroke-width="0.9" fill="none" stroke-dasharray="0.8 1.7"/>
<path d="M341.21 350.49V352.21" stroke="#333" stroke-width="0.9" fill="none" stroke-dasharray="0.8 1.5"/>
<path d="M343.88 331.27V350.01" stroke="#181c1c" stroke-width="1.25" fill="none" stroke-opacity="0.92"/>
<path d="M343.88 330.13V332.02" stroke="#333" stroke-width="0.9" fill="none" stroke-dasharray="0.8 1.7"/>
<path d="M343.88 349.46V351.52" stroke="#333" stroke-width="0.9" fill="none" stroke-dasharray="0.8 1.5"/>
<path d="M346.54 330.52V348.94" stroke="#181c1c" stroke-width="1.25" fill="none" stroke-opacity="0.9"/>
<path d="M346.54 329.1V331.3" stroke="#333" stroke-width="0.9" fill="none" stroke-dasharray="0.8 1.7"/>
<path d="M346.54 348.42V350.83" stroke="#333" stroke-width="0.9" fill="none" stroke-dasharray="0.8 1.5"/>
<path d="M349.2 329.78V347.87" stroke="#181c1c" stroke-width="1.25" fill="none" stroke-opacity="0.89"/>
<path d="M349.2 328.07V330.57" stroke="#333" stroke-width="0.9" fill="none" stroke-dasharray="0.8 1.7"/>
<path d="M349.2 347.39V350.15" stroke="#333" stroke-width="0.9" fill="none" stroke-dasharray="0.8 1.5"/>
<path d="M351.87 329.03V346.8" stroke="#181c1c" stroke-width="1.25" fill="none" stroke-opacity="0.87"/>
<path d="M351.87 327.04V329.84" stroke="#333" stroke-width="0.9" fill="none" stroke-dasharray="0.8 1.7"/>
<path d="M351.87 346.35V349.46" stroke="#333" stroke-width="0.9" fill="none" stroke-dasharray="0.8 1.5"/>
<path d="M354.53 328.28V345.73" stroke="#181c1c" stroke-width="1.25" fill="none" stroke-opacity="0.85"/>
<path d="M354.53 326.01V329.11" stroke="#333" stroke-width="0.9" fill="none" stroke-dasharray="0.8 1.7"/>
<path d="M354.53 345.32V348.77" stroke="#333" stroke-width="0.9" fill="none" stroke-dasharray="0.8 1.5"/>
<path d="M357.2 327.23V344.66" stroke="#181c1c" stroke-width="1.25" fill="none" stroke-opacity="0.83"/>
<path d="M357.2 324.67V328.08" stroke="#333" stroke-width="0.9" fill="none" stroke-dasharray="0.8 1.7"/>
<path d="M357.2 344.28V348.08" stroke="#333" stroke-width="0.9" fill="none" stroke-dasharray="0.8 1.5"/>
<path d="M359.86 326.18V343.59" stroke="#181c1c" stroke-width="1.25" fill="none" stroke-opacity="0.81"/>
<path d="M359.86 323.34V327.04" stroke="#333" stroke-width="0.9" fill="none" stroke-dasharray="0.8 1.7"/>
<path d="M359.86 343.25V347.39" stroke="#333" stroke-width="0.9" fill="none" stroke-dasharray="0.8 1.5"/>
<path d="M362.52 325.13V342.4" stroke="#181c1c" stroke-width="1.25" fill="none" stroke-opacity="0.79"/>
<path d="M362.52 322V326.01" stroke="#333" stroke-width="0.9" fill="none" stroke-dasharray="0.8 1.7"/>
<path d="M362.52 342.09V346.58" stroke="#333" stroke-width="0.9" fill="none" stroke-dasharray="0.8 1.5"/>
<path d="M365.19 324.08V341.21" stroke="#181c1c" stroke-width="1.25" fill="none" stroke-opacity="0.77"/>
<path d="M365.19 320.66V324.97" stroke="#333" stroke-width="0.9" fill="none" stroke-dasharray="0.8 1.7"/>
<path d="M365.19 340.94V345.77" stroke="#333" stroke-width="0.9" fill="none" stroke-dasharray="0.8 1.5"/>
<path d="M367.85 323.03V340.03" stroke="#181c1c" stroke-width="1.25" fill="none" stroke-opacity="0.75"/>
<path d="M367.85 319.33V323.94" stroke="#333" stroke-width="0.9" fill="none" stroke-dasharray="0.8 1.7"/>
<path d="M367.85 339.78V344.96" stroke="#333" stroke-width="0.9" fill="none" stroke-dasharray="0.8 1.5"/>
<path d="M370.52 321.98V338.84" stroke="#181c1c" stroke-width="1.25" fill="none" stroke-opacity="0.73"/>
<path d="M370.52 317.99V322.91" stroke="#333" stroke-width="0.9" fill="none" stroke-dasharray="0.8 1.7"/>
<path d="M370.52 338.63V344.15" stroke="#333" stroke-width="0.9" fill="none" stroke-dasharray="0.8 1.5"/>
<path d="M373.18 320.92V337.65" stroke="#181c1c" stroke-width="1.25" fill="none" stroke-opacity="0.71"/>
<path d="M373.18 316.66V321.87" stroke="#333" stroke-width="0.9" fill="none" stroke-dasharray="0.8 1.7"/>
<path d="M373.18 337.47V343.34" stroke="#333" stroke-width="0.9" fill="none" stroke-dasharray="0.8 1.5"/>
<path d="M375.84 319.78V336.46" stroke="#181c1c" stroke-width="1.25" fill="none" stroke-opacity="0.7"/>
<path d="M375.84 315.22V320.74" stroke="#333" stroke-width="0.9" fill="none" stroke-dasharray="0.8 1.7"/>
<path d="M375.84 336.32V342.53" stroke="#333" stroke-width="0.9" fill="none" stroke-dasharray="0.8 1.5"/>
<path d="M378.51 318.53V335.27" stroke="#181c1c" stroke-width="1.25" fill="none" stroke-opacity="0.68"/>
<path d="M378.51 313.7V319.52" stroke="#333" stroke-width="0.9" fill="none" stroke-dasharray="0.8 1.7"/>
<path d="M378.51 335.16V341.71" stroke="#333" stroke-width="0.9" fill="none" stroke-dasharray="0.8 1.5"/>
<path d="M381.17 317.29V334.08" stroke="#181c1c" stroke-width="1.25" fill="none" stroke-opacity="0.66"/>
<path d="M381.17 312.17V318.29" stroke="#333" stroke-width="0.9" fill="none" stroke-dasharray="0.8 1.7"/>
<path d="M381.17 334.01V340.9" stroke="#333" stroke-width="0.9" fill="none" stroke-dasharray="0.8 1.5"/>
<path d="M383.84 316.05V332.89" stroke="#181c1c" stroke-width="1.25" fill="none" stroke-opacity="0.64"/>
<path d="M383.84 310.64V317.06" stroke="#333" stroke-width="0.9" fill="none" stroke-dasharray="0.8 1.7"/>
<path d="M383.84 332.85V340.09" stroke="#333" stroke-width="0.9" fill="none" stroke-dasharray="0.8 1.5"/>
<path d="M386.5 314.8V331.7" stroke="#181c1c" stroke-width="1.25" fill="none" stroke-opacity="0.62"/>
<path d="M386.5 309.11V315.84" stroke="#333" stroke-width="0.9" fill="none" stroke-dasharray="0.8 1.7"/>
<path d="M386.5 331.7V339.28" stroke="#333" stroke-width="0.9" fill="none" stroke-dasharray="0.8 1.5"/>
<path d="M359.86 387.64V388.8M362.52 384.37V388.8M365.19 381.09V388.8M367.85 377.82V388.8M370.52 374.54V388.8M373.18 371.26V388.8M375.84 367.99V388.8M378.51 364.71V388.8M381.17 361.44V388.8M383.84 358.16V388.8M386.5 354.89V388.8" stroke="#222" stroke-width="1.15" fill="none" stroke-dasharray="1.6 1.1" stroke-opacity="0.8"/>
<path d="M253.3 354.8L254.99 353.74L256.67 352.68L258.36 351.61L260.04 350.53L261.73 349.44L263.42 348.34L265.1 347.23L266.79 346.12L268.47 344.99L270.16 343.86L271.85 342.72L273.53 341.57L275.22 340.42L276.91 339.25L278.59 338.08L280.28 336.9L281.96 335.7L283.65 334.51L285.34 333.3L287.02 332.08L288.71 330.86L290.39 329.63L292.08 328.39L293.77 327.14L295.45 325.88L297.14 324.61L298.82 323.34L300.51 322.06L302.2 320.76L303.88 319.47L305.57 318.16L307.25 316.84L308.94 315.52L310.63 314.18L312.31 312.84L314 311.49L315.68 310.13L317.37 308.77L319.06 307.39L320.74 306.01L322.43 304.62L324.12 303.22L325.8 301.81L327.49 300.39L329.17 298.96L330.86 297.53L332.55 296.09L334.23 294.64L335.92 293.18L337.6 291.71L339.29 290.23L340.98 288.75L342.66 287.26" stroke="#1c1c1c" stroke-width="1" fill="none" stroke-dasharray="1 1.66"/>
<path d="M253.3 354.8L254.99 353.74L256.67 352.68L258.36 351.61L260.04 350.53L261.73 349.44L263.42 348.34L265.1 347.23L266.79 346.12L268.47 344.99L270.16 343.86L271.85 342.72L273.53 341.57L275.22 340.42L276.91 339.25L278.59 338.08L280.28 336.9L281.96 335.7L283.65 334.51L285.34 333.3L287.02 332.08L288.71 330.86L290.39 329.63L292.08 328.39L293.77 327.14L295.45 325.88L297.14 324.61L298.82 323.34L300.51 322.06L302.2 320.76L303.88 319.47L305.57 318.16L307.25 316.84L308.94 315.52L310.63 314.18L312.31 312.84L314 311.49L315.68 310.13L317.37 308.77L319.06 307.39L320.74 306.01L322.43 304.62L324.12 303.22L325.8 301.81L327.49 300.39L329.17 298.96L330.86 297.53L332.55 296.09L334.23 294.64L335.92 293.18L337.6 291.71L339.29 290.23L340.98 288.75L342.66 287.26" stroke="#f01818" stroke-width="1.2" fill="none" stroke-dasharray="3.5 3" stroke-dashoffset="0"/>
<path d="M253.3 354.8L254.99 355.85L256.67 356.89L258.36 357.92L260.04 358.95L261.73 359.98L263.42 361.01L265.1 362.02L266.79 363.04L268.47 364.05L270.16 365.05L271.85 366.06L273.53 367.05L275.22 368.04L276.91 369.03L278.59 370.02L280.28 370.99L281.96 371.97L283.65 372.94L285.34 373.9L287.02 374.87L288.71 375.82L290.39 376.78L292.08 377.72L293.77 378.67L295.45 379.61L297.14 380.54L298.82 381.47L300.51 382.4L302.2 383.32L303.88 384.24L305.57 385.15L307.25 386.06L308.94 386.96L310.63 387.86L312.31 388.76" stroke="#1c1c1c" stroke-width="1" fill="none" stroke-dasharray="1 1.66"/>
<path d="M253.3 354.8L254.99 355.85L256.67 356.89L258.36 357.92L260.04 358.95L261.73 359.98L263.42 361.01L265.1 362.02L266.79 363.04L268.47 364.05L270.16 365.05L271.85 366.06L273.53 367.05L275.22 368.04L276.91 369.03L278.59 370.02L280.28 370.99L281.96 371.97L283.65 372.94L285.34 373.9L287.02 374.87L288.71 375.82L290.39 376.78L292.08 377.72L293.77 378.67L295.45 379.61L297.14 380.54L298.82 381.47L300.51 382.4L302.2 383.32L303.88 384.24L305.57 385.15L307.25 386.06L308.94 386.96L310.63 387.86L312.31 388.76" stroke="#f01818" stroke-width="1.2" fill="none" stroke-dasharray="3.5 3" stroke-dashoffset="0"/>
<path d="M253.3 354.8L254.99 354.66L256.67 354.5L258.36 354.32L260.04 354.12L261.73 353.9L263.42 353.66L265.1 353.4L266.79 353.12L268.47 352.83L270.16 352.51L271.85 352.17L273.53 351.82L275.22 351.44L276.91 351.04L278.59 350.63L280.28 350.19L281.96 349.74L283.65 349.27L285.34 348.77L287.02 348.26L288.71 347.73L290.39 347.17L292.08 346.6L293.77 346.01L295.45 345.4L297.14 344.77L298.82 344.12L300.51 343.45L302.2 342.76L303.88 342.05L305.57 341.32L307.25 340.57L308.94 339.8L310.63 339.01L312.31 338.2L314 337.38L315.68 336.53L317.37 335.66L319.06 334.78L320.74 333.87L322.43 332.95L324.12 332L325.8 331.04L327.49 330.05L329.17 329.05L330.86 328.03L332.55 326.98L334.23 325.92L335.92 324.84L337.6 323.74L339.29 322.62L340.98 321.47L342.66 320.31L344.35 319.13L346.03 317.93L347.72 316.71L349.41 315.48L351.09 314.22L352.78 312.94L354.46 311.64L356.15 310.32L357.84 308.99L359.52 307.63L361.21 306.25L362.89 304.86L364.58 303.44L366.27 302.01L367.95 300.55L369.64 299.08L371.33 297.58L373.01 296.07L374.7 294.54L376.38 292.98L378.07 291.41L379.76 289.82L381.44 288.21L383.13 286.58" stroke="#1c1c1c" stroke-width="1" fill="none" stroke-dasharray="1 1.66"/>
<path d="M253.3 354.8L254.99 354.66L256.67 354.5L258.36 354.32L260.04 354.12L261.73 353.9L263.42 353.66L265.1 353.4L266.79 353.12L268.47 352.83L270.16 352.51L271.85 352.17L273.53 351.82L275.22 351.44L276.91 351.04L278.59 350.63L280.28 350.19L281.96 349.74L283.65 349.27L285.34 348.77L287.02 348.26L288.71 347.73L290.39 347.17L292.08 346.6L293.77 346.01L295.45 345.4L297.14 344.77L298.82 344.12L300.51 343.45L302.2 342.76L303.88 342.05L305.57 341.32L307.25 340.57L308.94 339.8L310.63 339.01L312.31 338.2L314 337.38L315.68 336.53L317.37 335.66L319.06 334.78L320.74 333.87L322.43 332.95L324.12 332L325.8 331.04L327.49 330.05L329.17 329.05L330.86 328.03L332.55 326.98L334.23 325.92L335.92 324.84L337.6 323.74L339.29 322.62L340.98 321.47L342.66 320.31L344.35 319.13L346.03 317.93L347.72 316.71L349.41 315.48L351.09 314.22L352.78 312.94L354.46 311.64L356.15 310.32L357.84 308.99L359.52 307.63L361.21 306.25L362.89 304.86L364.58 303.44L366.27 302.01L367.95 300.55L369.64 299.08L371.33 297.58L373.01 296.07L374.7 294.54L376.38 292.98L378.07 291.41L379.76 289.82L381.44 288.21L383.13 286.58" stroke="#55e010" stroke-width="1.2" fill="none" stroke-dasharray="3.5 3" stroke-dashoffset="0"/>
<path d="M253.3 354.8L254.99 354.87L256.67 354.95L258.36 355.03L260.04 355.11L261.73 355.2L263.42 355.3L265.1 355.4L266.79 355.51L268.47 355.62L270.16 355.74L271.85 355.86L273.53 355.99L275.22 356.12L276.91 356.26L278.59 356.4L280.28 356.55L281.96 356.7L283.65 356.86L285.34 357.02L287.02 357.19L288.71 357.37L290.39 357.55L292.08 357.73L293.77 357.92L295.45 358.11L297.14 358.31L298.82 358.52L300.51 358.73L302.2 358.95L303.88 359.17L305.57 359.39L307.25 359.62L308.94 359.86L310.63 360.1L312.31 360.35L314 360.6L315.68 360.86L317.37 361.12L319.06 361.39L320.74 361.66L322.43 361.94L324.12 362.22L325.8 362.51L327.49 362.8L329.17 363.1L330.86 363.41L332.55 363.72L334.23 364.03L335.92 364.35L337.6 364.67L339.29 365L340.98 365.34L342.66 365.68L344.35 366.02L346.03 366.38L347.72 366.73L349.41 367.09L351.09 367.46L352.78 367.83L354.46 368.21L356.15 368.59L357.84 368.98L359.52 369.37L361.21 369.77L362.89 370.17L364.58 370.58L366.27 370.99L367.95 371.41L369.64 371.83L371.33 372.26L373.01 372.69L374.7 373.13L376.38 373.58L378.07 374.03L379.76 374.48L381.44 374.94L383.13 375.4L384.81 375.87L386.5 376.35" stroke="#1c1c1c" stroke-width="1" fill="none" stroke-dasharray="1 1.66"/>
<path d="M253.3 354.8L254.99 354.87L256.67 354.95L258.36 355.03L260.04 355.11L261.73 355.2L263.42 355.3L265.1 355.4L266.79 355.51L268.47 355.62L270.16 355.74L271.85 355.86L273.53 355.99L275.22 356.12L276.91 356.26L278.59 356.4L280.28 356.55L281.96 356.7L283.65 356.86L285.34 357.02L287.02 357.19L288.71 357.37L290.39 357.55L292.08 357.73L293.77 357.92L295.45 358.11L297.14 358.31L298.82 358.52L300.51 358.73L302.2 358.95L303.88 359.17L305.57 359.39L307.25 359.62L308.94 359.86L310.63 360.1L312.31 360.35L314 360.6L315.68 360.86L317.37 361.12L319.06 361.39L320.74 361.66L322.43 361.94L324.12 362.22L325.8 362.51L327.49 362.8L329.17 363.1L330.86 363.41L332.55 363.72L334.23 364.03L335.92 364.35L337.6 364.67L339.29 365L340.98 365.34L342.66 365.68L344.35 366.02L346.03 366.38L347.72 366.73L349.41 367.09L351.09 367.46L352.78 367.83L354.46 368.21L356.15 368.59L357.84 368.98L359.52 369.37L361.21 369.77L362.89 370.17L364.58 370.58L366.27 370.99L367.95 371.41L369.64 371.83L371.33 372.26L373.01 372.69L374.7 373.13L376.38 373.58L378.07 374.03L379.76 374.48L381.44 374.94L383.13 375.4L384.81 375.87L386.5 376.35" stroke="#55e010" stroke-width="1.2" fill="none" stroke-dasharray="3.5 3" stroke-dashoffset="0"/>
<path d="M253.3 354.8L254.99 354.83L256.67 354.85L258.36 354.84L260.04 354.82L261.73 354.78L263.42 354.72L265.1 354.63L266.79 354.53L268.47 354.41L270.16 354.28L271.85 354.12L273.53 353.94L275.22 353.74L276.91 353.53L278.59 353.29L280.28 353.04L281.96 352.76L283.65 352.47L285.34 352.16L287.02 351.83L288.71 351.48L290.39 351.11L292.08 350.72L293.77 350.31L295.45 349.88L297.14 349.44L298.82 348.97L300.51 348.49L302.2 347.98L303.88 347.46L305.57 346.91L307.25 346.35L308.94 345.77L310.63 345.17L312.31 344.55L314 343.91L315.68 343.25L317.37 342.58L319.06 341.88L320.74 341.16L322.43 340.43L324.12 339.68L325.8 338.9L327.49 338.11L329.17 337.3L330.86 336.47L332.55 335.62L334.23 334.75L335.92 333.86L337.6 332.95L339.29 332.02L340.98 331.08L342.66 330.11L344.35 329.13L346.03 328.12L347.72 327.1L349.41 326.05L351.09 324.99L352.78 323.91L354.46 322.81L356.15 321.69L357.84 320.55L359.52 319.4L361.21 318.22L362.89 317.02L364.58 315.81L366.27 314.57L367.95 313.32L369.64 312.04L371.33 310.75L373.01 309.44L374.7 308.11L376.38 306.76L378.07 305.39L379.76 304L381.44 302.59L383.13 301.16L384.81 299.72L386.5 298.25" stroke="#1c1c1c" stroke-width="1" fill="none" stroke-dasharray="1 1.66"/>
<path d="M253.3 354.8L254.99 354.83L256.67 354.85L258.36 354.84L260.04 354.82L261.73 354.78L263.42 354.72L265.1 354.63L266.79 354.53L268.47 354.41L270.16 354.28L271.85 354.12L273.53 353.94L275.22 353.74L276.91 353.53L278.59 353.29L280.28 353.04L281.96 352.76L283.65 352.47L285.34 352.16L287.02 351.83L288.71 351.48L290.39 351.11L292.08 350.72L293.77 350.31L295.45 349.88L297.14 349.44L298.82 348.97L300.51 348.49L302.2 347.98L303.88 347.46L305.57 346.91L307.25 346.35L308.94 345.77L310.63 345.17L312.31 344.55L314 343.91L315.68 343.25L317.37 342.58L319.06 341.88L320.74 341.16L322.43 340.43L324.12 339.68L325.8 338.9L327.49 338.11L329.17 337.3L330.86 336.47L332.55 335.62L334.23 334.75L335.92 333.86L337.6 332.95L339.29 332.02L340.98 331.08L342.66 330.11L344.35 329.13L346.03 328.12L347.72 327.1L349.41 326.05L351.09 324.99L352.78 323.91L354.46 322.81L356.15 321.69L357.84 320.55L359.52 319.4L361.21 318.22L362.89 317.02L364.58 315.81L366.27 314.57L367.95 313.32L369.64 312.04L371.33 310.75L373.01 309.44L374.7 308.11L376.38 306.76L378.07 305.39L379.76 304L381.44 302.59L383.13 301.16L384.81 299.72L386.5 298.25" stroke="#1838f0" stroke-width="1.2" fill="none" stroke-dasharray="3.5 3" stroke-dashoffset="0"/>
<path d="M253.3 354.8L254.99 354.74L256.67 354.68L258.36 354.63L260.04 354.57L261.73 354.51L263.42 354.45L265.1 354.39L266.79 354.33L268.47 354.28L270.16 354.22L271.85 354.16L273.53 354.1L275.22 354.01L276.91 353.92L278.59 353.84L280.28 353.75L281.96 353.66L283.65 353.57L285.34 353.49L287.02 353.4L288.71 353.31L290.39 353.22L292.08 353.14L293.77 353.04L295.45 352.91L297.14 352.77L298.82 352.64L300.51 352.51L302.2 352.38L303.88 352.25L305.57 352.12L307.25 352.04L308.94 352.03L310.63 352.02L312.31 352.01L314 352L315.68 351.99L317.37 351.99L319.06 351.98L320.74 351.97L322.43 351.96L324.12 351.95L325.8 351.94L327.49 351.93L329.17 351.92L330.86 351.92L332.55 351.91L334.23 351.9L335.92 351.89L337.6 351.88L339.29 351.87L340.98 351.93L342.66 352.01L344.35 352.1L346.03 352.19L347.72 352.28L349.41 352.36L351.09 352.45L352.78 352.54L354.46 352.62L356.15 352.71L357.84 352.8L359.52 352.89L361.21 353L362.89 353.12L364.58 353.24L366.27 353.36L367.95 353.48L369.64 353.6L371.33 353.72L373.01 353.84L374.7 353.96L376.38 354.08L378.07 354.2L379.76 354.32L381.44 354.44L383.13 354.56L384.81 354.68L386.5 354.8" stroke="#1c1c1c" stroke-width="1" fill="none" stroke-dasharray="1 1.66"/>
<path d="M253.3 354.8L254.99 354.74L256.67 354.68L258.36 354.63L260.04 354.57L261.73 354.51L263.42 354.45L265.1 354.39L266.79 354.33L268.47 354.28L270.16 354.22L271.85 354.16L273.53 354.1L275.22 354.01L276.91 353.92L278.59 353.84L280.28 353.75L281.96 353.66L283.65 353.57L285.34 353.49L287.02 353.4L288.71 353.31L290.39 353.22L292.08 353.14L293.77 353.04L295.45 352.91L297.14 352.77L298.82 352.64L300.51 352.51L302.2 352.38L303.88 352.25L305.57 352.12L307.25 352.04L308.94 352.03L310.63 352.02L312.31 352.01L314 352L315.68 351.99L317.37 351.99L319.06 351.98L320.74 351.97L322.43 351.96L324.12 351.95L325.8 351.94L327.49 351.93L329.17 351.92L330.86 351.92L332.55 351.91L334.23 351.9L335.92 351.89L337.6 351.88L339.29 351.87L340.98 351.93L342.66 352.01L344.35 352.1L346.03 352.19L347.72 352.28L349.41 352.36L351.09 352.45L352.78 352.54L354.46 352.62L356.15 352.71L357.84 352.8L359.52 352.89L361.21 353L362.89 353.12L364.58 353.24L366.27 353.36L367.95 353.48L369.64 353.6L371.33 353.72L373.01 353.84L374.7 353.96L376.38 354.08L378.07 354.2L379.76 354.32L381.44 354.44L383.13 354.56L384.81 354.68L386.5 354.8" stroke="#1838f0" stroke-width="1.2" fill="none" stroke-dasharray="3.5 3" stroke-dashoffset="0"/>
<path d="M253.3 354.8L254.99 354.86L256.67 354.9L258.36 354.92L260.04 354.93L261.73 354.92L263.42 354.89L265.1 354.85L266.79 354.79L268.47 354.72L270.16 354.63L271.85 354.52L273.53 354.39L275.22 354.25L276.91 354.09L278.59 353.92L280.28 353.73L281.96 353.52L283.65 353.29L285.34 353.05L287.02 352.79L288.71 352.52L290.39 352.23L292.08 351.92L293.77 351.6L295.45 351.26L297.14 350.9L298.82 350.53L300.51 350.14L302.2 349.73L303.88 349.31L305.57 348.87L307.25 348.41L308.94 347.94L310.63 347.45L312.31 346.94L314 346.42L315.68 345.88L317.37 345.32L319.06 344.75L320.74 344.16L322.43 343.55L324.12 342.93L325.8 342.29L327.49 341.64L329.17 340.96L330.86 340.28L332.55 339.57L334.23 338.85L335.92 338.11L337.6 337.36L339.29 336.58L340.98 335.8L342.66 334.99L344.35 334.17L346.03 333.33L347.72 332.48L349.41 331.61L351.09 330.72L352.78 329.82L354.46 328.89L356.15 327.96L357.84 327L359.52 326.03L361.21 325.05L362.89 324.04L364.58 323.02L366.27 321.99L367.95 320.93L369.64 319.86L371.33 318.78L373.01 317.67L374.7 316.55L376.38 315.42L378.07 314.26L379.76 313.1L381.44 311.91L383.13 310.71L384.81 309.49L386.5 308.25" stroke="#1c1c1c" stroke-width="1" fill="none" stroke-dasharray="1 1.66"/>
<path d="M253.3 354.8L254.99 354.86L256.67 354.9L258.36 354.92L260.04 354.93L261.73 354.92L263.42 354.89L265.1 354.85L266.79 354.79L268.47 354.72L270.16 354.63L271.85 354.52L273.53 354.39L275.22 354.25L276.91 354.09L278.59 353.92L280.28 353.73L281.96 353.52L283.65 353.29L285.34 353.05L287.02 352.79L288.71 352.52L290.39 352.23L292.08 351.92L293.77 351.6L295.45 351.26L297.14 350.9L298.82 350.53L300.51 350.14L302.2 349.73L303.88 349.31L305.57 348.87L307.25 348.41L308.94 347.94L310.63 347.45L312.31 346.94L314 346.42L315.68 345.88L317.37 345.32L319.06 344.75L320.74 344.16L322.43 343.55L324.12 342.93L325.8 342.29L327.49 341.64L329.17 340.96L330.86 340.28L332.55 339.57L334.23 338.85L335.92 338.11L337.6 337.36L339.29 336.58L340.98 335.8L342.66 334.99L344.35 334.17L346.03 333.33L347.72 332.48L349.41 331.61L351.09 330.72L352.78 329.82L354.46 328.89L356.15 327.96L357.84 327L359.52 326.03L361.21 325.05L362.89 324.04L364.58 323.02L366.27 321.99L367.95 320.93L369.64 319.86L371.33 318.78L373.01 317.67L374.7 316.55L376.38 315.42L378.07 314.26L379.76 313.1L381.44 311.91L383.13 310.71L384.81 309.49L386.5 308.25" stroke="#f0f018" stroke-width="1.2" fill="none" stroke-dasharray="3.5 3" stroke-dashoffset="0"/>
<path d="M253.3 354.8L254.99 354.73L256.67 354.66L258.36 354.59L260.04 354.52L261.73 354.45L263.42 354.38L265.1 354.31L266.79 354.24L268.47 354.17L270.16 354.1L271.85 354.03L273.53 353.96L275.22 353.89L276.91 353.82L278.59 353.75L280.28 353.68L281.96 353.61L283.65 353.54L285.34 353.47L287.02 353.37L288.71 353.19L290.39 353.01L292.08 352.83L293.77 352.64L295.45 352.46L297.14 352.28L298.82 352.09L300.51 351.91L302.2 351.73L303.88 351.54L305.57 351.36L307.25 351.18L308.94 350.99L310.63 350.81L312.31 350.63L314 350.44L315.68 350.26L317.37 350.08L319.06 349.89L320.74 349.65L322.43 349.34L324.12 349.03L325.8 348.73L327.49 348.42L329.17 348.12L330.86 347.81L332.55 347.5L334.23 347.2L335.92 346.92L337.6 346.68L339.29 346.44L340.98 346.2L342.66 345.96L344.35 345.72L346.03 345.48L347.72 345.28L349.41 345.14L351.09 345.01L352.78 344.87L354.46 344.73L356.15 344.6L357.84 344.46L359.52 344.33L361.21 344.19L362.89 344.06L364.58 343.92L366.27 343.79L367.95 343.7L369.64 343.63L371.33 343.56L373.01 343.49L374.7 343.41L376.38 343.34L378.07 343.27L379.76 343.2L381.44 343.12L383.13 343.05L384.81 342.98L386.5 342.9" stroke="#1c1c1c" stroke-width="1" fill="none" stroke-dasharray="1 1.66"/>
<path d="M253.3 354.8L254.99 354.73L256.67 354.66L258.36 354.59L260.04 354.52L261.73 354.45L263.42 354.38L265.1 354.31L266.79 354.24L268.47 354.17L270.16 354.1L271.85 354.03L273.53 353.96L275.22 353.89L276.91 353.82L278.59 353.75L280.28 353.68L281.96 353.61L283.65 353.54L285.34 353.47L287.02 353.37L288.71 353.19L290.39 353.01L292.08 352.83L293.77 352.64L295.45 352.46L297.14 352.28L298.82 352.09L300.51 351.91L302.2 351.73L303.88 351.54L305.57 351.36L307.25 351.18L308.94 350.99L310.63 350.81L312.31 350.63L314 350.44L315.68 350.26L317.37 350.08L319.06 349.89L320.74 349.65L322.43 349.34L324.12 349.03L325.8 348.73L327.49 348.42L329.17 348.12L330.86 347.81L332.55 347.5L334.23 347.2L335.92 346.92L337.6 346.68L339.29 346.44L340.98 346.2L342.66 345.96L344.35 345.72L346.03 345.48L347.72 345.28L349.41 345.14L351.09 345.01L352.78 344.87L354.46 344.73L356.15 344.6L357.84 344.46L359.52 344.33L361.21 344.19L362.89 344.06L364.58 343.92L366.27 343.79L367.95 343.7L369.64 343.63L371.33 343.56L373.01 343.49L374.7 343.41L376.38 343.34L378.07 343.27L379.76 343.2L381.44 343.12L383.13 343.05L384.81 342.98L386.5 342.9" stroke="#f0f018" stroke-width="1.2" fill="none" stroke-dasharray="3.5 3" stroke-dashoffset="0"/>
<path d="M253.3 354.8h2.4" stroke="#f0a018" stroke-width="1.3"/>
<rect x="253.3" y="286.4" width="133.2" height="102.4" fill="none" stroke="#363c3c" stroke-width="1.1"/>
<path d="M253.3 388.8v-2.1M253.3 286.4v2.1M319.9 388.8v-2.1M319.9 286.4v2.1M386.5 388.8v-2.1M386.5 286.4v2.1M253.3 388.8h2.1M386.5 388.8h-2.1M253.3 354.8h2.1M386.5 354.8h-2.1M253.3 320.32h2.1M386.5 320.32h-2.1M253.3 286.4h2.1M386.5 286.4h-2.1" stroke="#363c3c" stroke-width="0.9" fill="none"/>
<text x="253.3" y="401.7" text-anchor="middle" font-size="10">0</text>
<text x="319.9" y="401.7" text-anchor="middle" font-size="10">0.5</text>
<text x="386.5" y="401.7" text-anchor="middle" font-size="10">1</text>
<text x="249.7" y="392.3" text-anchor="end" font-size="10">0.8</text>
<text x="249.7" y="358.3" text-anchor="end" font-size="10">1</text>
<text x="249.7" y="323.82" text-anchor="end" font-size="10">1.2</text>
<text x="249.7" y="289.9" text-anchor="end" font-size="10">1.4</text>
<text x="321.9" y="409" text-anchor="middle" font-size="8.5">Coupling <tspan font-style="italic">J</tspan>/λ</text>
<text transform="translate(237.8 334.2) rotate(-90)" text-anchor="middle" font-size="11" font-style="italic">E / λ</text>
<text x="222.0" y="286.3" font-size="12.2">(<tspan font-style="italic">d</tspan>)</text>
</g>
<g id="panel-b">
<rect x="254.66" y="136.87" width="25.16" height="25.17" rx="5.2" fill="#00ff00" fill-opacity="0.5"/>
<rect x="254.66" y="166.41" width="25.16" height="25.17" rx="5.2" fill="#0000ff" fill-opacity="0.5"/>
<rect x="254.66" y="195.95" width="25.16" height="25.17" rx="5.2" fill="#ffff00" fill-opacity="0.5"/>
<rect x="284.18" y="136.87" width="25.16" height="25.17" rx="5.2" fill="#0000ff" fill-opacity="0.5"/>
<rect x="284.18" y="166.41" width="25.16" height="25.17" rx="5.2" fill="#ffff00" fill-opacity="0.5"/>
<rect x="284.18" y="225.49" width="25.16" height="25.17" rx="5.2" fill="#ffff00" fill-opacity="0.5"/>
<rect x="313.7" y="136.87" width="25.16" height="25.17" rx="5.2" fill="#ffff00" fill-opacity="0.5"/>
<rect x="313.7" y="195.95" width="25.16" height="25.17" rx="5.2" fill="#ffff00" fill-opacity="0.5"/>
<rect x="313.7" y="225.49" width="25.16" height="25.17" rx="5.2" fill="#0000ff" fill-opacity="0.5"/>
<rect x="343.22" y="166.41" width="25.16" height="25.17" rx="5.2" fill="#ffff00" fill-opacity="0.5"/>
<rect x="343.22" y="195.95" width="25.16" height="25.17" rx="5.2" fill="#0000ff" fill-opacity="0.5"/>
<rect x="343.22" y="225.49" width="25.16" height="25.17" rx="5.2" fill="#00ff00" fill-opacity="0.5"/>
<path d="M259.86 127.3L274.62 127.3" stroke="#ff0000" stroke-opacity="0.5" stroke-width="10.2" stroke-linecap="round" fill="none"/>
<path d="M245.1 142.07L245.1 156.84" stroke="#ff0000" stroke-opacity="0.5" stroke-width="10.2" stroke-linecap="round" fill="none"/>
<path d="M259.86 260.23L274.62 260.23" stroke="#ffff00" stroke-opacity="0.5" stroke-width="10.2" stroke-linecap="round" fill="none"/>
<path d="M377.94 142.07L377.94 156.84" stroke="#ffff00" stroke-opacity="0.5" stroke-width="10.2" stroke-linecap="round" fill="none"/>
<path d="M289.38 127.3L304.14 127.3" stroke="#00ff00" stroke-opacity="0.5" stroke-width="10.2" stroke-linecap="round" fill="none"/>
<path d="M245.1 171.61L245.1 186.38" stroke="#00ff00" stroke-opacity="0.5" stroke-width="10.2" stroke-linecap="round" fill="none"/>
<path d="M289.38 260.23L304.14 260.23" stroke="#0000ff" stroke-opacity="0.5" stroke-width="10.2" stroke-linecap="round" fill="none"/>
<path d="M377.94 171.61L377.94 186.38" stroke="#0000ff" stroke-opacity="0.5" stroke-width="10.2" stroke-linecap="round" fill="none"/>
<path d="M318.9 127.3L333.66 127.3" stroke="#0000ff" stroke-opacity="0.5" stroke-width="10.2" stroke-linecap="round" fill="none"/>
<path d="M245.1 201.15L245.1 215.92" stroke="#0000ff" stroke-opacity="0.5" stroke-width="10.2" stroke-linecap="round" fill="none"/>
<path d="M318.9 260.23L333.66 260.23" stroke="#00ff00" stroke-opacity="0.5" stroke-width="10.2" stroke-linecap="round" fill="none"/>
<path d="M377.94 201.15L377.94 215.92" stroke="#00ff00" stroke-opacity="0.5" stroke-width="10.2" stroke-linecap="round" fill="none"/>
<path d="M348.42 127.3L363.18 127.3" stroke="#ffff00" stroke-opacity="0.5" stroke-width="10.2" stroke-linecap="round" fill="none"/>
<path d="M245.1 230.69L245.1 245.46" stroke="#ffff00" stroke-opacity="0.5" stroke-width="10.2" stroke-linecap="round" fill="none"/>
<path d="M348.42 260.23L363.18 260.23" stroke="#ff0000" stroke-opacity="0.5" stroke-width="10.2" stroke-linecap="round" fill="none"/>
<path d="M377.94 230.69L377.94 245.46" stroke="#ff0000" stroke-opacity="0.5" stroke-width="10.2" stroke-linecap="round" fill="none"/>
<path d="M245.1 142.07L259.86 127.3" stroke="#ff0000" stroke-opacity="0.5" stroke-width="10.2" stroke-linecap="round" fill="none"/>
<path d="M245.1 171.61L259.86 156.84" stroke="#00ff00" stroke-opacity="0.5" stroke-width="10.2" stroke-linecap="round" fill="none"/>
<path d="M245.1 201.15L259.86 186.38" stroke="#0000ff" stroke-opacity="0.5" stroke-width="10.2" stroke-linecap="round" fill="none"/>
<path d="M245.1 230.69L259.86 215.92" stroke="#ffff00" stroke-opacity="0.5" stroke-width="10.2" stroke-linecap="round" fill="none"/>
<path d="M274.62 142.07L289.38 127.3" stroke="#00ff00" stroke-opacity="0.5" stroke-width="10.2" stroke-linecap="round" fill="none"/>
<path d="M274.62 171.61L289.38 156.84" stroke="#0000ff" stroke-opacity="0.5" stroke-width="10.2" stroke-linecap="round" fill="none"/>
<path d="M274.62 201.15L289.38 186.38" stroke="#ffff00" stroke-opacity="0.5" stroke-width="10.2" stroke-linecap="round" fill="none"/>
<path d="M274.62 260.23L289.38 245.46" stroke="#ffff00" stroke-opacity="0.5" stroke-width="10.2" stroke-linecap="round" fill="none"/>
<path d="M304.14 142.07L318.9 127.3" stroke="#0000ff" stroke-opacity="0.5" stroke-width="10.2" stroke-linecap="round" fill="none"/>
<path d="M304.14 171.61L318.9 156.84" stroke="#ffff00" stroke-opacity="0.5" stroke-width="10.2" stroke-linecap="round" fill="none"/>
<path d="M304.14 230.69L318.9 215.92" stroke="#ffff00" stroke-opacity="0.5" stroke-width="10.2" stroke-linecap="round" fill="none"/>
<path d="M304.14 260.23L318.9 245.46" stroke="#0000ff" stroke-opacity="0.5" stroke-width="10.2" stroke-linecap="round" fill="none"/>
<path d="M333.66 142.07L348.42 127.3" stroke="#ffff00" stroke-opacity="0.5" stroke-width="10.2" stroke-linecap="round" fill="none"/>
<path d="M333.66 201.15L348.42 186.38" stroke="#ffff00" stroke-opacity="0.5" stroke-width="10.2" stroke-linecap="round" fill="none"/>
<path d="M333.66 230.69L348.42 215.92" stroke="#0000ff" stroke-opacity="0.5" stroke-width="10.2" stroke-linecap="round" fill="none"/>
<path d="M333.66 260.23L348.42 245.46" stroke="#00ff00" stroke-opacity="0.5" stroke-width="10.2" stroke-linecap="round" fill="none"/>
<path d="M363.18 171.61L377.94 156.84" stroke="#ffff00" stroke-opacity="0.5" stroke-width="10.2" stroke-linecap="round" fill="none"/>
<path d="M363.18 201.15L377.94 186.38" stroke="#0000ff" stroke-opacity="0.5" stroke-width="10.2" stroke-linecap="round" fill="none"/>
<path d="M363.18 230.69L377.94 215.92" stroke="#00ff00" stroke-opacity="0.5" stroke-width="10.2" stroke-linecap="round" fill="none"/>
<path d="M363.18 260.23L377.94 245.46" stroke="#ff0000" stroke-opacity="0.5" stroke-width="10.2" stroke-linecap="round" fill="none"/>
<path d="M259.86 230.69H274.62V245.46H259.86ZM289.38 201.15H304.14V215.92H289.38ZM318.9 171.61H333.66V186.38H318.9ZM348.42 142.07H363.18V156.84H348.42ZM245.1 260.23L259.86 245.46M274.62 230.69L289.38 215.92M304.14 201.15L318.9 186.38M333.66 171.61L348.42 156.84M363.18 142.07L377.94 127.3" stroke="#000000" stroke-width="2.1" fill="none"/>
<path d="M259.86 127.3L274.62 127.3M245.1 142.07L245.1 156.84M348.42 260.23L363.18 260.23M377.94 230.69L377.94 245.46M245.1 142.07L259.86 127.3M363.18 260.23L377.94 245.46" stroke="#703232" stroke-width="2.05" fill="none"/>
<path d="M289.38 127.3L304.14 127.3M245.1 171.61L245.1 186.38M318.9 260.23L333.66 260.23M377.94 201.15L377.94 215.92M259.86 142.07H274.62V156.84H259.86ZM348.42 230.69H363.18V245.46H348.42ZM245.1 171.61L259.86 156.84M274.62 142.07L289.38 127.3M333.66 260.23L348.42 245.46M363.18 230.69L377.94 215.92" stroke="#377d37" stroke-width="2.05" fill="none"/>
<path d="M289.38 260.23L304.14 260.23M377.94 171.61L377.94 186.38M318.9 127.3L333.66 127.3M245.1 201.15L245.1 215.92M259.86 171.61H274.62V186.38H259.86ZM289.38 142.07H304.14V156.84H289.38ZM318.9 230.69H333.66V245.46H318.9ZM348.42 201.15H363.18V215.92H348.42ZM245.1 201.15L259.86 186.38M274.62 171.61L289.38 156.84M304.14 142.07L318.9 127.3M304.14 260.23L318.9 245.46M333.66 230.69L348.42 215.92M363.18 201.15L377.94 186.38" stroke="#37377d" stroke-width="2.05" fill="none"/>
<path d="M259.86 260.23L274.62 260.23M377.94 142.07L377.94 156.84M348.42 127.3L363.18 127.3M245.1 230.69L245.1 245.46M259.86 201.15H274.62V215.92H259.86ZM289.38 171.61H304.14V186.38H289.38ZM289.38 230.69H304.14V245.46H289.38ZM318.9 142.07H333.66V156.84H318.9ZM318.9 201.15H333.66V215.92H318.9ZM348.42 171.61H363.18V186.38H348.42ZM245.1 230.69L259.86 215.92M274.62 201.15L289.38 186.38M274.62 260.23L289.38 245.46M304.14 171.61L318.9 156.84M304.14 230.69L318.9 215.92M333.66 142.07L348.42 127.3M333.66 201.15L348.42 186.38M363.18 171.61L377.94 156.84" stroke="#787634" stroke-width="2.05" fill="none"/>
<circle cx="245.1" cy="127.3" r="3.85" fill="#373737"/>
<circle cx="245.1" cy="142.07" r="3.85" fill="#d02c2c"/>
<circle cx="245.1" cy="156.84" r="3.85" fill="#924444"/>
<circle cx="245.1" cy="171.61" r="3.85" fill="#30ce30"/>
<circle cx="245.1" cy="186.38" r="3.85" fill="#48944a"/>
<circle cx="245.1" cy="201.15" r="3.85" fill="#2e2eda"/>
<circle cx="245.1" cy="215.92" r="3.85" fill="#4a4a98"/>
<circle cx="245.1" cy="230.69" r="3.85" fill="#d4d432"/>
<circle cx="245.1" cy="245.46" r="3.85" fill="#989840"/>
<circle cx="245.1" cy="260.23" r="3.85" fill="#373737"/>
<circle cx="259.86" cy="127.3" r="3.85" fill="#d02c2c"/>
<circle cx="259.86" cy="142.07" r="3.85" fill="#48944a"/>
<circle cx="259.86" cy="156.84" r="3.85" fill="#30ce30"/>
<circle cx="259.86" cy="171.61" r="3.85" fill="#4a4a98"/>
<circle cx="259.86" cy="186.38" r="3.85" fill="#2e2eda"/>
<circle cx="259.86" cy="201.15" r="3.85" fill="#989840"/>
<circle cx="259.86" cy="215.92" r="3.85" fill="#d4d432"/>
<circle cx="259.86" cy="230.69" r="3.85" fill="#373737"/>
<circle cx="259.86" cy="245.46" r="3.85" fill="#373737"/>
<circle cx="259.86" cy="260.23" r="3.85" fill="#989840"/>
<circle cx="274.62" cy="127.3" r="3.85" fill="#924444"/>
<circle cx="274.62" cy="142.07" r="3.85" fill="#30ce30"/>
<circle cx="274.62" cy="156.84" r="3.85" fill="#48944a"/>
<circle cx="274.62" cy="171.61" r="3.85" fill="#2e2eda"/>
<circle cx="274.62" cy="186.38" r="3.85" fill="#4a4a98"/>
<circle cx="274.62" cy="201.15" r="3.85" fill="#d4d432"/>
<circle cx="274.62" cy="215.92" r="3.85" fill="#989840"/>
<circle cx="274.62" cy="230.69" r="3.85" fill="#373737"/>
<circle cx="274.62" cy="245.46" r="3.85" fill="#373737"/>
<circle cx="274.62" cy="260.23" r="3.85" fill="#d4d432"/>
<circle cx="289.38" cy="127.3" r="3.85" fill="#30ce30"/>
<circle cx="289.38" cy="142.07" r="3.85" fill="#4a4a98"/>
<circle cx="289.38" cy="156.84" r="3.85" fill="#2e2eda"/>
<circle cx="289.38" cy="171.61" r="3.85" fill="#989840"/>
<circle cx="289.38" cy="186.38" r="3.85" fill="#d4d432"/>
<circle cx="289.38" cy="201.15" r="3.85" fill="#373737"/>
<circle cx="289.38" cy="215.92" r="3.85" fill="#373737"/>
<circle cx="289.38" cy="230.69" r="3.85" fill="#989840"/>
<circle cx="289.38" cy="245.46" r="3.85" fill="#d4d432"/>
<circle cx="289.38" cy="260.23" r="3.85" fill="#4a4a98"/>
<circle cx="304.14" cy="127.3" r="3.85" fill="#48944a"/>
<circle cx="304.14" cy="142.07" r="3.85" fill="#2e2eda"/>
<circle cx="304.14" cy="156.84" r="3.85" fill="#4a4a98"/>
<circle cx="304.14" cy="171.61" r="3.85" fill="#d4d432"/>
<circle cx="304.14" cy="186.38" r="3.85" fill="#989840"/>
<circle cx="304.14" cy="201.15" r="3.85" fill="#373737"/>
<circle cx="304.14" cy="215.92" r="3.85" fill="#373737"/>
<circle cx="304.14" cy="230.69" r="3.85" fill="#d4d432"/>
<circle cx="304.14" cy="245.46" r="3.85" fill="#989840"/>
<circle cx="304.14" cy="260.23" r="3.85" fill="#2e2eda"/>
<circle cx="318.9" cy="127.3" r="3.85" fill="#2e2eda"/>
<circle cx="318.9" cy="142.07" r="3.85" fill="#989840"/>
<circle cx="318.9" cy="156.84" r="3.85" fill="#d4d432"/>
<circle cx="318.9" cy="171.61" r="3.85" fill="#373737"/>
<circle cx="318.9" cy="186.38" r="3.85" fill="#373737"/>
<circle cx="318.9" cy="201.15" r="3.85" fill="#989840"/>
<circle cx="318.9" cy="215.92" r="3.85" fill="#d4d432"/>
<circle cx="318.9" cy="230.69" r="3.85" fill="#4a4a98"/>
<circle cx="318.9" cy="245.46" r="3.85" fill="#2e2eda"/>
<circle cx="318.9" cy="260.23" r="3.85" fill="#48944a"/>
<circle cx="333.66" cy="127.3" r="3.85" fill="#4a4a98"/>
<circle cx="333.66" cy="142.07" r="3.85" fill="#d4d432"/>
<circle cx="333.66" cy="156.84" r="3.85" fill="#989840"/>
<circle cx="333.66" cy="171.61" r="3.85" fill="#373737"/>
<circle cx="333.66" cy="186.38" r="3.85" fill="#373737"/>
<circle cx="333.66" cy="201.15" r="3.85" fill="#d4d432"/>
<circle cx="333.66" cy="215.92" r="3.85" fill="#989840"/>
<circle cx="333.66" cy="230.69" r="3.85" fill="#2e2eda"/>
<circle cx="333.66" cy="245.46" r="3.85" fill="#4a4a98"/>
<circle cx="333.66" cy="260.23" r="3.85" fill="#30ce30"/>
<circle cx="348.42" cy="127.3" r="3.85" fill="#d4d432"/>
<circle cx="348.42" cy="142.07" r="3.85" fill="#373737"/>
<circle cx="348.42" cy="156.84" r="3.85" fill="#373737"/>
<circle cx="348.42" cy="171.61" r="3.85" fill="#989840"/>
<circle cx="348.42" cy="186.38" r="3.85" fill="#d4d432"/>
<circle cx="348.42" cy="201.15" r="3.85" fill="#4a4a98"/>
<circle cx="348.42" cy="215.92" r="3.85" fill="#2e2eda"/>
<circle cx="348.42" cy="230.69" r="3.85" fill="#48944a"/>
<circle cx="348.42" cy="245.46" r="3.85" fill="#30ce30"/>
<circle cx="348.42" cy="260.23" r="3.85" fill="#924444"/>
<circle cx="363.18" cy="127.3" r="3.85" fill="#989840"/>
<circle cx="363.18" cy="142.07" r="3.85" fill="#373737"/>
<circle cx="363.18" cy="156.84" r="3.85" fill="#373737"/>
<circle cx="363.18" cy="171.61" r="3.85" fill="#d4d432"/>
<circle cx="363.18" cy="186.38" r="3.85" fill="#989840"/>
<circle cx="363.18" cy="201.15" r="3.85" fill="#2e2eda"/>
<circle cx="363.18" cy="215.92" r="3.85" fill="#4a4a98"/>
<circle cx="363.18" cy="230.69" r="3.85" fill="#30ce30"/>
<circle cx="363.18" cy="245.46" r="3.85" fill="#48944a"/>
<circle cx="363.18" cy="260.23" r="3.85" fill="#d02c2c"/>
<circle cx="377.94" cy="127.3" r="3.85" fill="#373737"/>
<circle cx="377.94" cy="142.07" r="3.85" fill="#989840"/>
<circle cx="377.94" cy="156.84" r="3.85" fill="#d4d432"/>
<circle cx="377.94" cy="171.61" r="3.85" fill="#4a4a98"/>
<circle cx="377.94" cy="186.38" r="3.85" fill="#2e2eda"/>
<circle cx="377.94" cy="201.15" r="3.85" fill="#48944a"/>
<circle cx="377.94" cy="215.92" r="3.85" fill="#30ce30"/>
<circle cx="377.94" cy="230.69" r="3.85" fill="#924444"/>
<circle cx="377.94" cy="245.46" r="3.85" fill="#d02c2c"/>
<circle cx="377.94" cy="260.23" r="3.85" fill="#373737"/>
<text x="221.8" y="131.2" font-size="12.2">(<tspan font-style="italic">b</tspan>)</text>
</g>
</svg>
</body></html>
